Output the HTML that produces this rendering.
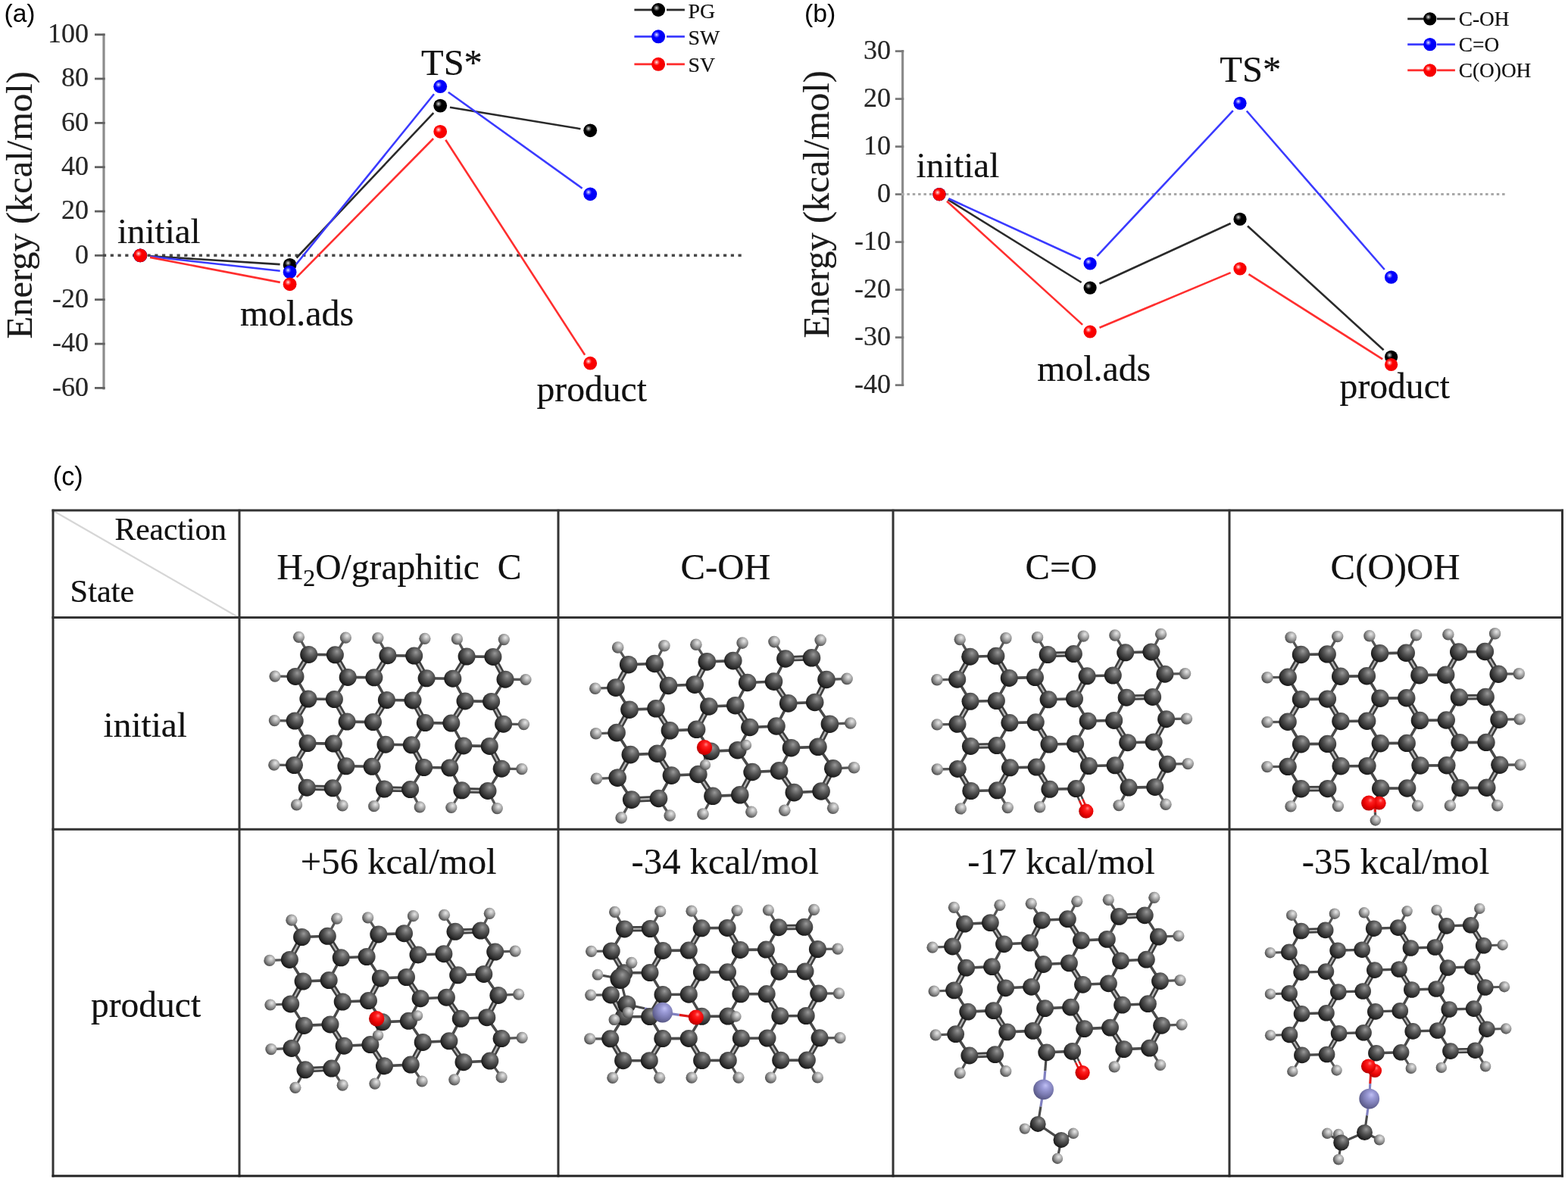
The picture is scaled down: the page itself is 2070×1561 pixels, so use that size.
<!DOCTYPE html>
<html><head><meta charset="utf-8"><title>Energy profiles</title>
<style>html,body{margin:0;padding:0;background:#fff;}body{width:2070px;height:1561px;overflow:hidden;position:relative;}svg{position:absolute;left:0;top:0;}</style>
</head><body>
<svg width="2070" height="1561" viewBox="0 0 2070 1561">
<defs>
<radialGradient id="gC" cx="0.62" cy="0.38" r="0.78" fx="0.60" fy="0.30">
<stop offset="0.00" stop-color="#9a9a9a"/>
<stop offset="0.18" stop-color="#777"/>
<stop offset="0.40" stop-color="#525252"/>
<stop offset="0.62" stop-color="#363636"/>
<stop offset="0.82" stop-color="#181818"/>
<stop offset="1.00" stop-color="#090909"/>
</radialGradient>
<radialGradient id="gH" cx="0.62" cy="0.40" r="0.80" fx="0.62" fy="0.33">
<stop offset="0.00" stop-color="#e8e8e8"/>
<stop offset="0.22" stop-color="#c4c4c4"/>
<stop offset="0.50" stop-color="#8e8e8e"/>
<stop offset="0.75" stop-color="#575757"/>
<stop offset="1.00" stop-color="#333"/>
</radialGradient>
<radialGradient id="gO" cx="0.60" cy="0.40" r="0.80" fx="0.60" fy="0.30">
<stop offset="0.00" stop-color="#ff8080"/>
<stop offset="0.20" stop-color="#ff2020"/>
<stop offset="0.55" stop-color="#e60000"/>
<stop offset="0.82" stop-color="#b00000"/>
<stop offset="1.00" stop-color="#700000"/>
</radialGradient>
<radialGradient id="gN" cx="0.60" cy="0.40" r="0.80" fx="0.60" fy="0.30">
<stop offset="0.00" stop-color="#c0c0f4"/>
<stop offset="0.22" stop-color="#9c9cd8"/>
<stop offset="0.50" stop-color="#7d7db4"/>
<stop offset="0.78" stop-color="#5a5a88"/>
<stop offset="1.00" stop-color="#3c3c5e"/>
</radialGradient>
<radialGradient id="mK" cx="0.37" cy="0.36" r="0.68" fx="0.37" fy="0.36">
<stop offset="0.00" stop-color="#e0e0e0"/>
<stop offset="0.18" stop-color="#606060"/>
<stop offset="0.35" stop-color="#000"/>
<stop offset="1.00" stop-color="#000"/>
</radialGradient>
<radialGradient id="mB" cx="0.37" cy="0.36" r="0.68" fx="0.37" fy="0.36">
<stop offset="0.00" stop-color="#f0f0ff"/>
<stop offset="0.18" stop-color="#6060ff"/>
<stop offset="0.35" stop-color="#0000ff"/>
<stop offset="1.00" stop-color="#0000f0"/>
</radialGradient>
<radialGradient id="mR" cx="0.37" cy="0.36" r="0.68" fx="0.37" fy="0.36">
<stop offset="0.00" stop-color="#fff0f0"/>
<stop offset="0.18" stop-color="#ff6060"/>
<stop offset="0.35" stop-color="#ff0000"/>
<stop offset="1.00" stop-color="#f00000"/>
</radialGradient>
</defs>
<rect width="2070" height="1561" fill="#fff"/>
<text x="5.5" y="29.0" font-size="33.6" text-anchor="start" fill="#000" font-family="'Liberation Sans',Arial,sans-serif">(a)</text>
<line x1="137.0" y1="44.5" x2="137.0" y2="514.5" stroke="#8c8c8c" stroke-width="3.2"/>
<line x1="125.0" y1="512.4" x2="138.6" y2="512.4" stroke="#606060" stroke-width="2.8"/>
<text x="117.0" y="522.7" font-size="36.0" text-anchor="end" fill="#262626" font-family="'Liberation Serif','Times New Roman',serif" stroke="#262626" stroke-width="0.2">-60</text>
<line x1="125.0" y1="454.1" x2="138.6" y2="454.1" stroke="#606060" stroke-width="2.8"/>
<text x="117.0" y="464.4" font-size="36.0" text-anchor="end" fill="#262626" font-family="'Liberation Serif','Times New Roman',serif" stroke="#262626" stroke-width="0.2">-40</text>
<line x1="125.0" y1="395.7" x2="138.6" y2="395.7" stroke="#606060" stroke-width="2.8"/>
<text x="117.0" y="406.0" font-size="36.0" text-anchor="end" fill="#262626" font-family="'Liberation Serif','Times New Roman',serif" stroke="#262626" stroke-width="0.2">-20</text>
<line x1="125.0" y1="337.4" x2="138.6" y2="337.4" stroke="#606060" stroke-width="2.8"/>
<text x="117.0" y="347.7" font-size="36.0" text-anchor="end" fill="#262626" font-family="'Liberation Serif','Times New Roman',serif" stroke="#262626" stroke-width="0.2">0</text>
<line x1="125.0" y1="279.1" x2="138.6" y2="279.1" stroke="#606060" stroke-width="2.8"/>
<text x="117.0" y="289.4" font-size="36.0" text-anchor="end" fill="#262626" font-family="'Liberation Serif','Times New Roman',serif" stroke="#262626" stroke-width="0.2">20</text>
<line x1="125.0" y1="220.7" x2="138.6" y2="220.7" stroke="#606060" stroke-width="2.8"/>
<text x="117.0" y="231.0" font-size="36.0" text-anchor="end" fill="#262626" font-family="'Liberation Serif','Times New Roman',serif" stroke="#262626" stroke-width="0.2">40</text>
<line x1="125.0" y1="162.4" x2="138.6" y2="162.4" stroke="#606060" stroke-width="2.8"/>
<text x="117.0" y="172.7" font-size="36.0" text-anchor="end" fill="#262626" font-family="'Liberation Serif','Times New Roman',serif" stroke="#262626" stroke-width="0.2">60</text>
<line x1="125.0" y1="104.0" x2="138.6" y2="104.0" stroke="#606060" stroke-width="2.8"/>
<text x="117.0" y="114.3" font-size="36.0" text-anchor="end" fill="#262626" font-family="'Liberation Serif','Times New Roman',serif" stroke="#262626" stroke-width="0.2">80</text>
<line x1="125.0" y1="45.7" x2="138.6" y2="45.7" stroke="#606060" stroke-width="2.8"/>
<text x="117.0" y="56.0" font-size="36.0" text-anchor="end" fill="#262626" font-family="'Liberation Serif','Times New Roman',serif" stroke="#262626" stroke-width="0.2">100</text>
<text transform="translate(41.5,447.4) rotate(-90)" font-size="48.5" fill="#1a1a1a" stroke="#1a1a1a" stroke-width="0.2" font-family="'Liberation Serif','Times New Roman',serif">Energy (kcal/mol)</text>
<line x1="136" y1="337.2" x2="980" y2="337.2" stroke="#484848" stroke-width="3.6" stroke-dasharray="4.2,5.55"/>
<line x1="198.2" y1="338.2" x2="369.6" y2="349.1" stroke="#2a2a2a" stroke-width="2.6"/>
<line x1="391.5" y1="340.5" x2="572.3" y2="149.1" stroke="#2a2a2a" stroke-width="2.6"/>
<line x1="594.0" y1="141.7" x2="766.4" y2="170.2" stroke="#2a2a2a" stroke-width="2.6"/>
<circle cx="185.2" cy="337.4" r="8.9" fill="url(#mK)"/>
<circle cx="382.6" cy="349.9" r="8.9" fill="url(#mK)"/>
<circle cx="581.2" cy="139.6" r="8.9" fill="url(#mK)"/>
<circle cx="779.2" cy="172.3" r="8.9" fill="url(#mK)"/>
<line x1="198.1" y1="338.8" x2="369.7" y2="357.8" stroke="#3a3aff" stroke-width="2.6"/>
<line x1="390.8" y1="349.2" x2="573.0" y2="124.3" stroke="#3a3aff" stroke-width="2.6"/>
<line x1="591.8" y1="121.8" x2="768.6" y2="248.7" stroke="#3a3aff" stroke-width="2.6"/>
<circle cx="185.2" cy="337.4" r="8.9" fill="url(#mB)"/>
<circle cx="382.6" cy="359.3" r="8.9" fill="url(#mB)"/>
<circle cx="581.2" cy="114.2" r="8.9" fill="url(#mB)"/>
<circle cx="779.2" cy="256.3" r="8.9" fill="url(#mB)"/>
<line x1="198.0" y1="339.9" x2="369.8" y2="372.9" stroke="#ff2e2e" stroke-width="2.6"/>
<line x1="391.7" y1="366.1" x2="572.1" y2="183.0" stroke="#ff2e2e" stroke-width="2.6"/>
<line x1="588.3" y1="184.7" x2="772.1" y2="468.8" stroke="#ff2e2e" stroke-width="2.6"/>
<circle cx="185.2" cy="337.4" r="8.9" fill="url(#mR)"/>
<circle cx="382.6" cy="375.3" r="8.9" fill="url(#mR)"/>
<circle cx="581.2" cy="173.8" r="8.9" fill="url(#mR)"/>
<circle cx="779.2" cy="479.7" r="8.9" fill="url(#mR)"/>
<text x="155.0" y="320.5" font-size="47.0" text-anchor="start" fill="#111" font-family="'Liberation Serif','Times New Roman',serif" stroke="#111" stroke-width="0.2">initial</text>
<text x="317.0" y="429.6" font-size="47.8" text-anchor="start" fill="#111" font-family="'Liberation Serif','Times New Roman',serif" stroke="#111" stroke-width="0.2">mol.ads</text>
<text x="556.0" y="98.7" font-size="48.5" text-anchor="start" fill="#111" font-family="'Liberation Serif','Times New Roman',serif" stroke="#111" stroke-width="0.2">TS*</text>
<text x="708.5" y="529.7" font-size="47.6" text-anchor="start" fill="#111" font-family="'Liberation Serif','Times New Roman',serif" stroke="#111" stroke-width="0.2">product</text>
<line x1="837.4" y1="13.0" x2="864.0" y2="13.0" stroke="#2a2a2a" stroke-width="2.8"/>
<line x1="880.0" y1="13.0" x2="903.9" y2="13.0" stroke="#2a2a2a" stroke-width="2.8"/>
<circle cx="869.1" cy="13.0" r="9.0" fill="url(#mK)"/>
<text x="908.6" y="23.6" font-size="27.8" text-anchor="start" fill="#111" font-family="'Liberation Serif','Times New Roman',serif" stroke="#111" stroke-width="0.2">PG</text>
<line x1="837.4" y1="48.3" x2="864.0" y2="48.3" stroke="#3a3aff" stroke-width="2.8"/>
<line x1="880.0" y1="48.3" x2="903.9" y2="48.3" stroke="#3a3aff" stroke-width="2.8"/>
<circle cx="869.1" cy="48.3" r="9.0" fill="url(#mB)"/>
<text x="908.6" y="58.9" font-size="27.8" text-anchor="start" fill="#111" font-family="'Liberation Serif','Times New Roman',serif" stroke="#111" stroke-width="0.2">SW</text>
<line x1="837.4" y1="84.8" x2="864.0" y2="84.8" stroke="#ff2e2e" stroke-width="2.8"/>
<line x1="880.0" y1="84.8" x2="903.9" y2="84.8" stroke="#ff2e2e" stroke-width="2.8"/>
<circle cx="869.1" cy="84.8" r="9.0" fill="url(#mR)"/>
<text x="908.6" y="95.4" font-size="27.8" text-anchor="start" fill="#111" font-family="'Liberation Serif','Times New Roman',serif" stroke="#111" stroke-width="0.2">SV</text>
<text x="1062.0" y="29.3" font-size="33.8" text-anchor="start" fill="#000" font-family="'Liberation Sans',Arial,sans-serif">(b)</text>
<line x1="1191.6" y1="66.0" x2="1191.6" y2="509.6" stroke="#8c8c8c" stroke-width="3.2"/>
<line x1="1181.8" y1="508.6" x2="1193.2" y2="508.6" stroke="#7a7a7a" stroke-width="2.8"/>
<text x="1176.0" y="518.9" font-size="36.0" text-anchor="end" fill="#262626" font-family="'Liberation Serif','Times New Roman',serif" stroke="#262626" stroke-width="0.2">-40</text>
<line x1="1181.8" y1="445.6" x2="1193.2" y2="445.6" stroke="#7a7a7a" stroke-width="2.8"/>
<text x="1176.0" y="455.9" font-size="36.0" text-anchor="end" fill="#262626" font-family="'Liberation Serif','Times New Roman',serif" stroke="#262626" stroke-width="0.2">-30</text>
<line x1="1181.8" y1="382.6" x2="1193.2" y2="382.6" stroke="#7a7a7a" stroke-width="2.8"/>
<text x="1176.0" y="392.9" font-size="36.0" text-anchor="end" fill="#262626" font-family="'Liberation Serif','Times New Roman',serif" stroke="#262626" stroke-width="0.2">-20</text>
<line x1="1181.8" y1="319.6" x2="1193.2" y2="319.6" stroke="#7a7a7a" stroke-width="2.8"/>
<text x="1176.0" y="329.9" font-size="36.0" text-anchor="end" fill="#262626" font-family="'Liberation Serif','Times New Roman',serif" stroke="#262626" stroke-width="0.2">-10</text>
<line x1="1181.8" y1="256.6" x2="1193.2" y2="256.6" stroke="#7a7a7a" stroke-width="2.8"/>
<text x="1176.0" y="266.9" font-size="36.0" text-anchor="end" fill="#262626" font-family="'Liberation Serif','Times New Roman',serif" stroke="#262626" stroke-width="0.2">0</text>
<line x1="1181.8" y1="193.6" x2="1193.2" y2="193.6" stroke="#7a7a7a" stroke-width="2.8"/>
<text x="1176.0" y="203.9" font-size="36.0" text-anchor="end" fill="#262626" font-family="'Liberation Serif','Times New Roman',serif" stroke="#262626" stroke-width="0.2">10</text>
<line x1="1181.8" y1="130.6" x2="1193.2" y2="130.6" stroke="#7a7a7a" stroke-width="2.8"/>
<text x="1176.0" y="140.9" font-size="36.0" text-anchor="end" fill="#262626" font-family="'Liberation Serif','Times New Roman',serif" stroke="#262626" stroke-width="0.2">20</text>
<line x1="1181.8" y1="67.6" x2="1193.2" y2="67.6" stroke="#7a7a7a" stroke-width="2.8"/>
<text x="1176.0" y="77.9" font-size="36.0" text-anchor="end" fill="#262626" font-family="'Liberation Serif','Times New Roman',serif" stroke="#262626" stroke-width="0.2">30</text>
<text transform="translate(1093.6,446.4) rotate(-90)" font-size="48.5" fill="#1a1a1a" stroke="#1a1a1a" stroke-width="0.2" font-family="'Liberation Serif','Times New Roman',serif">Energy (kcal/mol)</text>
<line x1="1190.05" y1="256.5" x2="1988" y2="256.5" stroke="#a8a8a8" stroke-width="2.8" stroke-dasharray="3.5,3.843"/>
<line x1="1251.5" y1="263.7" x2="1427.6" y2="373.0" stroke="#2a2a2a" stroke-width="2.6"/>
<line x1="1451.4" y1="374.5" x2="1624.7" y2="295.0" stroke="#2a2a2a" stroke-width="2.6"/>
<line x1="1647.0" y1="298.5" x2="1826.6" y2="462.3" stroke="#2a2a2a" stroke-width="2.6"/>
<circle cx="1240.0" cy="256.6" r="8.6" fill="url(#mK)"/>
<circle cx="1439.1" cy="380.1" r="8.6" fill="url(#mK)"/>
<circle cx="1637.0" cy="289.4" r="8.6" fill="url(#mK)"/>
<circle cx="1836.6" cy="471.4" r="8.6" fill="url(#mK)"/>
<line x1="1252.3" y1="262.2" x2="1426.8" y2="342.3" stroke="#3a3aff" stroke-width="2.6"/>
<line x1="1448.3" y1="338.1" x2="1627.8" y2="146.1" stroke="#3a3aff" stroke-width="2.6"/>
<line x1="1645.8" y1="146.5" x2="1827.8" y2="356.0" stroke="#3a3aff" stroke-width="2.6"/>
<circle cx="1240.0" cy="256.6" r="8.6" fill="url(#mB)"/>
<circle cx="1439.1" cy="348.0" r="8.6" fill="url(#mB)"/>
<circle cx="1637.0" cy="136.3" r="8.6" fill="url(#mB)"/>
<circle cx="1836.6" cy="366.2" r="8.6" fill="url(#mB)"/>
<line x1="1250.0" y1="265.7" x2="1429.1" y2="428.9" stroke="#ff2e2e" stroke-width="2.6"/>
<line x1="1451.5" y1="432.8" x2="1624.6" y2="360.1" stroke="#ff2e2e" stroke-width="2.6"/>
<line x1="1648.4" y1="362.1" x2="1825.2" y2="474.3" stroke="#ff2e2e" stroke-width="2.6"/>
<circle cx="1240.0" cy="256.6" r="8.6" fill="url(#mR)"/>
<circle cx="1439.1" cy="438.0" r="8.6" fill="url(#mR)"/>
<circle cx="1637.0" cy="354.9" r="8.6" fill="url(#mR)"/>
<circle cx="1836.6" cy="481.5" r="8.6" fill="url(#mR)"/>
<text x="1209.6" y="234.2" font-size="47.0" text-anchor="start" fill="#111" font-family="'Liberation Serif','Times New Roman',serif" stroke="#111" stroke-width="0.2">initial</text>
<text x="1369.2" y="503.0" font-size="47.8" text-anchor="start" fill="#111" font-family="'Liberation Serif','Times New Roman',serif" stroke="#111" stroke-width="0.2">mol.ads</text>
<text x="1610.3" y="107.7" font-size="48.5" text-anchor="start" fill="#111" font-family="'Liberation Serif','Times New Roman',serif" stroke="#111" stroke-width="0.2">TS*</text>
<text x="1768.6" y="526.0" font-size="47.6" text-anchor="start" fill="#111" font-family="'Liberation Serif','Times New Roman',serif" stroke="#111" stroke-width="0.2">product</text>
<line x1="1858.2" y1="24.9" x2="1884.0" y2="24.9" stroke="#2a2a2a" stroke-width="2.8"/>
<line x1="1897.0" y1="24.9" x2="1920.9" y2="24.9" stroke="#2a2a2a" stroke-width="2.8"/>
<circle cx="1887.8" cy="24.9" r="8.6" fill="url(#mK)"/>
<text x="1925.8" y="34.3" font-size="27.3" text-anchor="start" fill="#111" font-family="'Liberation Serif','Times New Roman',serif" stroke="#111" stroke-width="0.2">C-OH</text>
<line x1="1858.2" y1="58.7" x2="1884.0" y2="58.7" stroke="#3a3aff" stroke-width="2.8"/>
<line x1="1897.0" y1="58.7" x2="1920.9" y2="58.7" stroke="#3a3aff" stroke-width="2.8"/>
<circle cx="1887.8" cy="58.7" r="8.6" fill="url(#mB)"/>
<text x="1925.8" y="68.1" font-size="27.3" text-anchor="start" fill="#111" font-family="'Liberation Serif','Times New Roman',serif" stroke="#111" stroke-width="0.2">C=O</text>
<line x1="1858.2" y1="92.8" x2="1884.0" y2="92.8" stroke="#ff2e2e" stroke-width="2.8"/>
<line x1="1897.0" y1="92.8" x2="1920.9" y2="92.8" stroke="#ff2e2e" stroke-width="2.8"/>
<circle cx="1887.8" cy="92.8" r="8.6" fill="url(#mR)"/>
<text x="1925.8" y="102.2" font-size="27.3" text-anchor="start" fill="#111" font-family="'Liberation Serif','Times New Roman',serif" stroke="#111" stroke-width="0.2">C(O)OH</text>
<text x="69.8" y="641.4" font-size="34.2" text-anchor="start" fill="#000" font-family="'Liberation Sans',Arial,sans-serif">(c)</text>
<line x1="71.0" y1="675.0" x2="316.0" y2="816.0" stroke="#d6d6d6" stroke-width="2.2"/>
<line x1="70.0" y1="672.8" x2="70.0" y2="1554.5" stroke="#333" stroke-width="3.0"/>
<line x1="316.0" y1="672.8" x2="316.0" y2="1554.5" stroke="#333" stroke-width="3.0"/>
<line x1="737.0" y1="672.8" x2="737.0" y2="1554.5" stroke="#333" stroke-width="3.0"/>
<line x1="1179.0" y1="672.8" x2="1179.0" y2="1554.5" stroke="#333" stroke-width="3.0"/>
<line x1="1623.0" y1="672.8" x2="1623.0" y2="1554.5" stroke="#333" stroke-width="3.0"/>
<line x1="2062.5" y1="672.8" x2="2062.5" y2="1554.5" stroke="#333" stroke-width="3.0"/>
<line x1="68.5" y1="674.0" x2="2064.0" y2="674.0" stroke="#333" stroke-width="3.0"/>
<line x1="68.5" y1="815.5" x2="2064.0" y2="815.5" stroke="#333" stroke-width="3.0"/>
<line x1="68.5" y1="1095.2" x2="2064.0" y2="1095.2" stroke="#333" stroke-width="3.0"/>
<line x1="68.5" y1="1553.0" x2="2064.0" y2="1553.0" stroke="#222" stroke-width="3.2"/>
<text x="151.5" y="713.0" font-size="41.5" text-anchor="start" fill="#111" font-family="'Liberation Serif','Times New Roman',serif" stroke="#111" stroke-width="0.2">Reaction</text>
<text x="92.5" y="794.8" font-size="42.5" text-anchor="start" fill="#111" font-family="'Liberation Serif','Times New Roman',serif" stroke="#111" stroke-width="0.2">State</text>
<text x="527.0" y="764.5" font-size="47.6" text-anchor="middle" fill="#111" font-family="'Liberation Serif','Times New Roman',serif" stroke="#111" stroke-width="0.2">H<tspan font-size="32.5" dy="9">2</tspan><tspan dy="-9">O/graphitic&#160; C</tspan></text>
<text x="958.0" y="764.5" font-size="48.6" text-anchor="middle" fill="#111" font-family="'Liberation Serif','Times New Roman',serif" stroke="#111" stroke-width="0.2">C-OH</text>
<text x="1401.0" y="764.5" font-size="48.6" text-anchor="middle" fill="#111" font-family="'Liberation Serif','Times New Roman',serif" stroke="#111" stroke-width="0.2">C=O</text>
<text x="1842.0" y="764.5" font-size="48.8" text-anchor="middle" fill="#111" font-family="'Liberation Serif','Times New Roman',serif" stroke="#111" stroke-width="0.2">C(O)OH</text>
<text x="191.8" y="973.2" font-size="47.3" text-anchor="middle" fill="#111" font-family="'Liberation Serif','Times New Roman',serif" stroke="#111" stroke-width="0.2">initial</text>
<text x="192.6" y="1342.7" font-size="47.5" text-anchor="middle" fill="#111" font-family="'Liberation Serif','Times New Roman',serif" stroke="#111" stroke-width="0.2">product</text>
<text x="526.2" y="1154.2" font-size="48.7" text-anchor="middle" fill="#111" font-family="'Liberation Serif','Times New Roman',serif" stroke="#111" stroke-width="0.2">+56 kcal/mol</text>
<text x="957.3" y="1154.2" font-size="48.7" text-anchor="middle" fill="#111" font-family="'Liberation Serif','Times New Roman',serif" stroke="#111" stroke-width="0.2">-34 kcal/mol</text>
<text x="1401.0" y="1154.2" font-size="48.7" text-anchor="middle" fill="#111" font-family="'Liberation Serif','Times New Roman',serif" stroke="#111" stroke-width="0.2">-17 kcal/mol</text>
<text x="1842.5" y="1154.2" font-size="48.7" text-anchor="middle" fill="#111" font-family="'Liberation Serif','Times New Roman',serif" stroke="#111" stroke-width="0.2">-35 kcal/mol</text>
<line x1="491.1" y1="1012.3" x2="507.5" y2="1042.0" stroke="#4a4a4a" stroke-width="3.6"/>
<line x1="405.2" y1="1040.2" x2="439.3" y2="1040.8" stroke="#b4b4b4" stroke-width="6.9"/>
<line x1="405.1" y1="1042.6" x2="439.2" y2="1043.2" stroke="#404040" stroke-width="2.6"/>
<line x1="405.2" y1="1037.8" x2="439.3" y2="1038.4" stroke="#404040" stroke-width="2.6"/>
<line x1="439.3" y1="1040.8" x2="456.9" y2="1011.8" stroke="#4a4a4a" stroke-width="3.6"/>
<line x1="458.1" y1="953.1" x2="492.5" y2="953.6" stroke="#4a4a4a" stroke-width="3.6"/>
<line x1="563.1" y1="895.8" x2="597.8" y2="896.2" stroke="#4a4a4a" stroke-width="3.6"/>
<line x1="509.0" y1="983.2" x2="543.3" y2="983.8" stroke="#4a4a4a" stroke-width="3.6"/>
<line x1="561.3" y1="954.6" x2="595.8" y2="955.1" stroke="#4a4a4a" stroke-width="3.6"/>
<line x1="406.0" y1="981.6" x2="440.3" y2="982.1" stroke="#4a4a4a" stroke-width="3.6"/>
<line x1="456.9" y1="1011.8" x2="491.1" y2="1012.3" stroke="#4a4a4a" stroke-width="3.6"/>
<line x1="440.3" y1="982.1" x2="458.1" y2="953.1" stroke="#4a4a4a" stroke-width="3.6"/>
<line x1="390.0" y1="893.4" x2="406.9" y2="923.0" stroke="#4a4a4a" stroke-width="3.6"/>
<line x1="593.8" y1="1014.0" x2="611.9" y2="984.9" stroke="#b4b4b4" stroke-width="6.9"/>
<line x1="595.8" y1="1015.3" x2="614.0" y2="986.1" stroke="#404040" stroke-width="2.6"/>
<line x1="591.7" y1="1012.8" x2="609.9" y2="983.6" stroke="#404040" stroke-width="2.6"/>
<line x1="648.6" y1="926.4" x2="664.6" y2="956.2" stroke="#b4b4b4" stroke-width="6.9"/>
<line x1="646.4" y1="927.6" x2="662.5" y2="957.3" stroke="#404040" stroke-width="2.6"/>
<line x1="650.7" y1="925.3" x2="666.7" y2="955.0" stroke="#404040" stroke-width="2.6"/>
<line x1="511.9" y1="865.7" x2="546.7" y2="866.1" stroke="#4a4a4a" stroke-width="3.6"/>
<line x1="407.7" y1="864.4" x2="442.4" y2="864.8" stroke="#4a4a4a" stroke-width="3.6"/>
<line x1="545.0" y1="924.9" x2="563.1" y2="895.8" stroke="#4a4a4a" stroke-width="3.6"/>
<line x1="543.3" y1="983.8" x2="559.6" y2="1013.5" stroke="#b4b4b4" stroke-width="6.9"/>
<line x1="541.2" y1="984.9" x2="557.5" y2="1014.6" stroke="#404040" stroke-width="2.6"/>
<line x1="545.4" y1="982.6" x2="561.7" y2="1012.3" stroke="#404040" stroke-width="2.6"/>
<line x1="493.9" y1="894.8" x2="511.9" y2="865.7" stroke="#b4b4b4" stroke-width="6.9"/>
<line x1="495.9" y1="896.1" x2="514.0" y2="866.9" stroke="#404040" stroke-width="2.6"/>
<line x1="491.8" y1="893.6" x2="509.9" y2="864.4" stroke="#404040" stroke-width="2.6"/>
<line x1="441.4" y1="923.5" x2="458.1" y2="953.1" stroke="#b4b4b4" stroke-width="6.9"/>
<line x1="439.3" y1="924.7" x2="456.0" y2="954.3" stroke="#404040" stroke-width="2.6"/>
<line x1="443.5" y1="922.3" x2="460.2" y2="951.9" stroke="#404040" stroke-width="2.6"/>
<line x1="510.4" y1="924.5" x2="545.0" y2="924.9" stroke="#4a4a4a" stroke-width="3.6"/>
<line x1="614.0" y1="925.9" x2="648.6" y2="926.4" stroke="#4a4a4a" stroke-width="3.6"/>
<line x1="389.2" y1="952.0" x2="406.9" y2="923.0" stroke="#b4b4b4" stroke-width="6.9"/>
<line x1="391.3" y1="953.3" x2="408.9" y2="924.2" stroke="#404040" stroke-width="2.6"/>
<line x1="387.2" y1="950.8" x2="404.8" y2="921.7" stroke="#404040" stroke-width="2.6"/>
<line x1="646.3" y1="985.4" x2="662.2" y2="1015.2" stroke="#b4b4b4" stroke-width="6.9"/>
<line x1="644.1" y1="986.5" x2="660.1" y2="1016.3" stroke="#404040" stroke-width="2.6"/>
<line x1="648.4" y1="984.3" x2="664.3" y2="1014.0" stroke="#404040" stroke-width="2.6"/>
<line x1="459.2" y1="894.4" x2="493.9" y2="894.8" stroke="#4a4a4a" stroke-width="3.6"/>
<line x1="388.5" y1="1010.6" x2="406.0" y2="981.6" stroke="#b4b4b4" stroke-width="6.9"/>
<line x1="390.5" y1="1011.9" x2="408.1" y2="982.9" stroke="#404040" stroke-width="2.6"/>
<line x1="386.4" y1="1009.4" x2="404.0" y2="980.4" stroke="#404040" stroke-width="2.6"/>
<line x1="440.3" y1="982.1" x2="456.9" y2="1011.8" stroke="#b4b4b4" stroke-width="6.9"/>
<line x1="438.2" y1="983.3" x2="454.8" y2="1012.9" stroke="#404040" stroke-width="2.6"/>
<line x1="442.4" y1="981.0" x2="459.0" y2="1010.6" stroke="#404040" stroke-width="2.6"/>
<line x1="595.8" y1="955.1" x2="614.0" y2="925.9" stroke="#b4b4b4" stroke-width="6.9"/>
<line x1="597.8" y1="956.4" x2="616.1" y2="927.2" stroke="#404040" stroke-width="2.6"/>
<line x1="593.7" y1="953.9" x2="612.0" y2="924.7" stroke="#404040" stroke-width="2.6"/>
<line x1="593.8" y1="1014.0" x2="609.8" y2="1043.8" stroke="#4a4a4a" stroke-width="3.6"/>
<line x1="406.9" y1="923.0" x2="441.4" y2="923.5" stroke="#4a4a4a" stroke-width="3.6"/>
<line x1="492.5" y1="953.6" x2="509.0" y2="983.2" stroke="#4a4a4a" stroke-width="3.6"/>
<line x1="545.0" y1="924.9" x2="561.3" y2="954.6" stroke="#b4b4b4" stroke-width="6.9"/>
<line x1="542.9" y1="926.1" x2="559.2" y2="955.8" stroke="#404040" stroke-width="2.6"/>
<line x1="547.1" y1="923.8" x2="563.5" y2="953.5" stroke="#404040" stroke-width="2.6"/>
<line x1="546.7" y1="866.1" x2="563.1" y2="895.8" stroke="#b4b4b4" stroke-width="6.9"/>
<line x1="544.5" y1="867.3" x2="561.0" y2="896.9" stroke="#404040" stroke-width="2.6"/>
<line x1="548.8" y1="865.0" x2="565.2" y2="894.6" stroke="#404040" stroke-width="2.6"/>
<line x1="644.0" y1="1044.4" x2="662.2" y2="1015.2" stroke="#4a4a4a" stroke-width="3.6"/>
<line x1="597.8" y1="896.2" x2="616.1" y2="867.0" stroke="#b4b4b4" stroke-width="6.9"/>
<line x1="599.8" y1="897.5" x2="618.2" y2="868.3" stroke="#404040" stroke-width="2.6"/>
<line x1="595.7" y1="895.0" x2="614.1" y2="865.7" stroke="#404040" stroke-width="2.6"/>
<line x1="388.5" y1="1010.6" x2="405.2" y2="1040.2" stroke="#4a4a4a" stroke-width="3.6"/>
<line x1="442.4" y1="864.8" x2="459.2" y2="894.4" stroke="#b4b4b4" stroke-width="6.9"/>
<line x1="440.3" y1="866.0" x2="457.1" y2="895.6" stroke="#404040" stroke-width="2.6"/>
<line x1="444.5" y1="863.6" x2="461.3" y2="893.2" stroke="#404040" stroke-width="2.6"/>
<line x1="493.9" y1="894.8" x2="510.4" y2="924.5" stroke="#4a4a4a" stroke-width="3.6"/>
<line x1="491.1" y1="1012.3" x2="509.0" y2="983.2" stroke="#b4b4b4" stroke-width="6.9"/>
<line x1="493.2" y1="1013.6" x2="511.0" y2="984.5" stroke="#404040" stroke-width="2.6"/>
<line x1="489.1" y1="1011.1" x2="506.9" y2="982.0" stroke="#404040" stroke-width="2.6"/>
<line x1="543.3" y1="983.8" x2="561.3" y2="954.6" stroke="#4a4a4a" stroke-width="3.6"/>
<line x1="609.8" y1="1043.8" x2="644.0" y2="1044.4" stroke="#b4b4b4" stroke-width="6.9"/>
<line x1="609.8" y1="1046.2" x2="643.9" y2="1046.8" stroke="#404040" stroke-width="2.6"/>
<line x1="609.9" y1="1041.4" x2="644.0" y2="1042.0" stroke="#404040" stroke-width="2.6"/>
<line x1="611.9" y1="984.9" x2="646.3" y2="985.4" stroke="#4a4a4a" stroke-width="3.6"/>
<line x1="441.4" y1="923.5" x2="459.2" y2="894.4" stroke="#4a4a4a" stroke-width="3.6"/>
<line x1="650.9" y1="867.4" x2="667.0" y2="897.2" stroke="#b4b4b4" stroke-width="6.9"/>
<line x1="648.8" y1="868.6" x2="664.9" y2="898.3" stroke="#404040" stroke-width="2.6"/>
<line x1="653.0" y1="866.3" x2="669.2" y2="896.0" stroke="#404040" stroke-width="2.6"/>
<line x1="648.6" y1="926.4" x2="667.0" y2="897.2" stroke="#4a4a4a" stroke-width="3.6"/>
<line x1="559.6" y1="1013.5" x2="593.8" y2="1014.0" stroke="#4a4a4a" stroke-width="3.6"/>
<line x1="390.0" y1="893.4" x2="407.7" y2="864.4" stroke="#b4b4b4" stroke-width="6.9"/>
<line x1="392.0" y1="894.7" x2="409.8" y2="865.6" stroke="#404040" stroke-width="2.6"/>
<line x1="387.9" y1="892.2" x2="405.6" y2="863.1" stroke="#404040" stroke-width="2.6"/>
<line x1="597.8" y1="896.2" x2="614.0" y2="925.9" stroke="#4a4a4a" stroke-width="3.6"/>
<line x1="616.1" y1="867.0" x2="650.9" y2="867.4" stroke="#4a4a4a" stroke-width="3.6"/>
<line x1="646.3" y1="985.4" x2="664.6" y2="956.2" stroke="#4a4a4a" stroke-width="3.6"/>
<line x1="507.5" y1="1042.0" x2="541.6" y2="1042.6" stroke="#b4b4b4" stroke-width="6.9"/>
<line x1="507.5" y1="1044.4" x2="541.6" y2="1045.0" stroke="#404040" stroke-width="2.6"/>
<line x1="507.5" y1="1039.6" x2="541.7" y2="1040.2" stroke="#404040" stroke-width="2.6"/>
<line x1="541.6" y1="1042.6" x2="559.6" y2="1013.5" stroke="#4a4a4a" stroke-width="3.6"/>
<line x1="492.5" y1="953.6" x2="510.4" y2="924.5" stroke="#b4b4b4" stroke-width="6.9"/>
<line x1="494.6" y1="954.8" x2="512.5" y2="925.7" stroke="#404040" stroke-width="2.6"/>
<line x1="490.4" y1="952.3" x2="508.4" y2="923.2" stroke="#404040" stroke-width="2.6"/>
<line x1="595.8" y1="955.1" x2="611.9" y2="984.9" stroke="#4a4a4a" stroke-width="3.6"/>
<line x1="389.2" y1="952.0" x2="406.0" y2="981.6" stroke="#4a4a4a" stroke-width="3.6"/>
<line x1="407.7" y1="864.4" x2="394.5" y2="841.3" stroke="#555" stroke-width="3.3"/>
<line x1="442.4" y1="864.8" x2="456.4" y2="842.1" stroke="#555" stroke-width="3.3"/>
<line x1="390.0" y1="893.4" x2="363.0" y2="893.1" stroke="#555" stroke-width="3.3"/>
<line x1="389.2" y1="952.0" x2="362.4" y2="951.6" stroke="#555" stroke-width="3.3"/>
<line x1="439.3" y1="1040.8" x2="452.1" y2="1063.9" stroke="#555" stroke-width="3.3"/>
<line x1="405.2" y1="1040.2" x2="391.6" y2="1062.9" stroke="#555" stroke-width="3.3"/>
<line x1="388.5" y1="1010.6" x2="361.8" y2="1010.2" stroke="#555" stroke-width="3.3"/>
<line x1="511.9" y1="865.7" x2="498.9" y2="842.6" stroke="#555" stroke-width="3.3"/>
<line x1="546.7" y1="866.1" x2="560.9" y2="843.3" stroke="#555" stroke-width="3.3"/>
<line x1="541.6" y1="1042.6" x2="554.2" y2="1065.8" stroke="#555" stroke-width="3.3"/>
<line x1="507.5" y1="1042.0" x2="493.7" y2="1064.7" stroke="#555" stroke-width="3.3"/>
<line x1="616.1" y1="867.0" x2="603.4" y2="843.9" stroke="#555" stroke-width="3.3"/>
<line x1="650.9" y1="867.4" x2="665.3" y2="844.6" stroke="#555" stroke-width="3.3"/>
<line x1="667.0" y1="897.2" x2="694.0" y2="897.5" stroke="#555" stroke-width="3.3"/>
<line x1="664.6" y1="956.2" x2="691.5" y2="956.6" stroke="#555" stroke-width="3.3"/>
<line x1="662.2" y1="1015.2" x2="688.9" y2="1015.6" stroke="#555" stroke-width="3.3"/>
<line x1="644.0" y1="1044.4" x2="656.3" y2="1067.6" stroke="#555" stroke-width="3.3"/>
<line x1="609.8" y1="1043.8" x2="595.8" y2="1066.5" stroke="#555" stroke-width="3.3"/>
<circle cx="407.7" cy="864.4" r="11.5" fill="url(#gC)"/>
<circle cx="442.4" cy="864.8" r="11.5" fill="url(#gC)"/>
<circle cx="459.2" cy="894.4" r="11.5" fill="url(#gC)"/>
<circle cx="441.4" cy="923.5" r="11.5" fill="url(#gC)"/>
<circle cx="406.9" cy="923.0" r="11.5" fill="url(#gC)"/>
<circle cx="390.0" cy="893.4" r="11.5" fill="url(#gC)"/>
<circle cx="458.1" cy="953.1" r="11.5" fill="url(#gC)"/>
<circle cx="440.3" cy="982.1" r="11.5" fill="url(#gC)"/>
<circle cx="406.0" cy="981.6" r="11.5" fill="url(#gC)"/>
<circle cx="389.2" cy="952.0" r="11.5" fill="url(#gC)"/>
<circle cx="456.9" cy="1011.8" r="11.5" fill="url(#gC)"/>
<circle cx="439.3" cy="1040.8" r="11.5" fill="url(#gC)"/>
<circle cx="405.2" cy="1040.2" r="11.5" fill="url(#gC)"/>
<circle cx="388.5" cy="1010.6" r="11.5" fill="url(#gC)"/>
<circle cx="493.9" cy="894.8" r="11.5" fill="url(#gC)"/>
<circle cx="510.4" cy="924.5" r="11.5" fill="url(#gC)"/>
<circle cx="492.5" cy="953.6" r="11.5" fill="url(#gC)"/>
<circle cx="509.0" cy="983.2" r="11.5" fill="url(#gC)"/>
<circle cx="491.1" cy="1012.3" r="11.5" fill="url(#gC)"/>
<circle cx="511.9" cy="865.7" r="11.5" fill="url(#gC)"/>
<circle cx="546.7" cy="866.1" r="11.5" fill="url(#gC)"/>
<circle cx="563.1" cy="895.8" r="11.5" fill="url(#gC)"/>
<circle cx="545.0" cy="924.9" r="11.5" fill="url(#gC)"/>
<circle cx="561.3" cy="954.6" r="11.5" fill="url(#gC)"/>
<circle cx="543.3" cy="983.8" r="11.5" fill="url(#gC)"/>
<circle cx="559.6" cy="1013.5" r="11.5" fill="url(#gC)"/>
<circle cx="541.6" cy="1042.6" r="11.5" fill="url(#gC)"/>
<circle cx="507.5" cy="1042.0" r="11.5" fill="url(#gC)"/>
<circle cx="597.8" cy="896.2" r="11.5" fill="url(#gC)"/>
<circle cx="614.0" cy="925.9" r="11.5" fill="url(#gC)"/>
<circle cx="595.8" cy="955.1" r="11.5" fill="url(#gC)"/>
<circle cx="611.9" cy="984.9" r="11.5" fill="url(#gC)"/>
<circle cx="593.8" cy="1014.0" r="11.5" fill="url(#gC)"/>
<circle cx="616.1" cy="867.0" r="11.5" fill="url(#gC)"/>
<circle cx="650.9" cy="867.4" r="11.5" fill="url(#gC)"/>
<circle cx="667.0" cy="897.2" r="11.5" fill="url(#gC)"/>
<circle cx="648.6" cy="926.4" r="11.5" fill="url(#gC)"/>
<circle cx="664.6" cy="956.2" r="11.5" fill="url(#gC)"/>
<circle cx="646.3" cy="985.4" r="11.5" fill="url(#gC)"/>
<circle cx="662.2" cy="1015.2" r="11.5" fill="url(#gC)"/>
<circle cx="644.0" cy="1044.4" r="11.5" fill="url(#gC)"/>
<circle cx="609.8" cy="1043.8" r="11.5" fill="url(#gC)"/>
<circle cx="394.5" cy="841.3" r="7.6" fill="url(#gH)"/>
<circle cx="456.4" cy="842.1" r="7.6" fill="url(#gH)"/>
<circle cx="363.0" cy="893.1" r="7.6" fill="url(#gH)"/>
<circle cx="362.4" cy="951.6" r="7.6" fill="url(#gH)"/>
<circle cx="452.1" cy="1063.9" r="7.6" fill="url(#gH)"/>
<circle cx="391.6" cy="1062.9" r="7.6" fill="url(#gH)"/>
<circle cx="361.8" cy="1010.2" r="7.6" fill="url(#gH)"/>
<circle cx="498.9" cy="842.6" r="7.6" fill="url(#gH)"/>
<circle cx="560.9" cy="843.3" r="7.6" fill="url(#gH)"/>
<circle cx="554.2" cy="1065.8" r="7.6" fill="url(#gH)"/>
<circle cx="493.7" cy="1064.7" r="7.6" fill="url(#gH)"/>
<circle cx="603.4" cy="843.9" r="7.6" fill="url(#gH)"/>
<circle cx="665.3" cy="844.6" r="7.6" fill="url(#gH)"/>
<circle cx="694.0" cy="897.5" r="7.6" fill="url(#gH)"/>
<circle cx="691.5" cy="956.6" r="7.6" fill="url(#gH)"/>
<circle cx="688.9" cy="1015.6" r="7.6" fill="url(#gH)"/>
<circle cx="656.3" cy="1067.6" r="7.6" fill="url(#gH)"/>
<circle cx="595.8" cy="1066.5" r="7.6" fill="url(#gH)"/>
<line x1="921.9" y1="1022.5" x2="941.0" y2="1051.3" stroke="#b4b4b4" stroke-width="7.0"/>
<line x1="919.9" y1="1023.9" x2="938.9" y2="1052.7" stroke="#404040" stroke-width="2.6"/>
<line x1="924.0" y1="1021.2" x2="943.1" y2="1050.0" stroke="#404040" stroke-width="2.6"/>
<line x1="833.7" y1="1056.1" x2="869.5" y2="1054.5" stroke="#b4b4b4" stroke-width="7.0"/>
<line x1="833.8" y1="1058.6" x2="869.6" y2="1057.0" stroke="#404040" stroke-width="2.6"/>
<line x1="833.6" y1="1053.6" x2="869.4" y2="1052.0" stroke="#404040" stroke-width="2.6"/>
<line x1="869.5" y1="1054.5" x2="886.4" y2="1024.1" stroke="#4a4a4a" stroke-width="3.7"/>
<line x1="884.4" y1="964.8" x2="919.6" y2="963.3" stroke="#4a4a4a" stroke-width="3.7"/>
<line x1="986.7" y1="901.5" x2="1021.5" y2="900.1" stroke="#4a4a4a" stroke-width="3.7"/>
<line x1="938.4" y1="992.2" x2="973.8" y2="990.7" stroke="#4a4a4a" stroke-width="3.7"/>
<line x1="989.9" y1="960.5" x2="1025.0" y2="959.0" stroke="#4a4a4a" stroke-width="3.7"/>
<line x1="832.3" y1="996.6" x2="867.7" y2="995.2" stroke="#4a4a4a" stroke-width="3.7"/>
<line x1="886.4" y1="1024.1" x2="921.9" y2="1022.5" stroke="#4a4a4a" stroke-width="3.7"/>
<line x1="867.7" y1="995.2" x2="884.4" y2="964.8" stroke="#4a4a4a" stroke-width="3.7"/>
<line x1="813.0" y1="908.1" x2="831.0" y2="937.2" stroke="#4a4a4a" stroke-width="3.7"/>
<line x1="1028.6" y1="1017.9" x2="1044.5" y2="987.7" stroke="#4a4a4a" stroke-width="3.7"/>
<line x1="1075.7" y1="927.5" x2="1095.4" y2="956.2" stroke="#4a4a4a" stroke-width="3.7"/>
<line x1="933.3" y1="873.9" x2="967.8" y2="872.6" stroke="#4a4a4a" stroke-width="3.7"/>
<line x1="829.7" y1="877.7" x2="864.2" y2="876.5" stroke="#4a4a4a" stroke-width="3.7"/>
<line x1="970.8" y1="931.7" x2="986.7" y2="901.5" stroke="#4a4a4a" stroke-width="3.7"/>
<line x1="973.8" y1="990.7" x2="993.1" y2="1019.5" stroke="#4a4a4a" stroke-width="3.7"/>
<line x1="917.2" y1="904.1" x2="933.3" y2="873.9" stroke="#b4b4b4" stroke-width="7.0"/>
<line x1="919.4" y1="905.3" x2="935.5" y2="875.0" stroke="#404040" stroke-width="2.6"/>
<line x1="915.0" y1="903.0" x2="931.1" y2="872.7" stroke="#404040" stroke-width="2.6"/>
<line x1="866.0" y1="935.8" x2="884.4" y2="964.8" stroke="#b4b4b4" stroke-width="7.0"/>
<line x1="863.9" y1="937.1" x2="882.3" y2="966.1" stroke="#404040" stroke-width="2.6"/>
<line x1="868.0" y1="934.5" x2="886.5" y2="963.4" stroke="#404040" stroke-width="2.6"/>
<line x1="935.9" y1="933.0" x2="970.8" y2="931.7" stroke="#4a4a4a" stroke-width="3.7"/>
<line x1="1040.7" y1="928.9" x2="1075.7" y2="927.5" stroke="#4a4a4a" stroke-width="3.7"/>
<line x1="814.1" y1="967.6" x2="831.0" y2="937.2" stroke="#b4b4b4" stroke-width="7.0"/>
<line x1="816.2" y1="968.8" x2="833.2" y2="938.4" stroke="#404040" stroke-width="2.6"/>
<line x1="811.9" y1="966.4" x2="828.8" y2="936.0" stroke="#404040" stroke-width="2.6"/>
<line x1="1079.9" y1="986.3" x2="1099.8" y2="1014.9" stroke="#4a4a4a" stroke-width="3.7"/>
<line x1="882.5" y1="905.5" x2="917.2" y2="904.1" stroke="#4a4a4a" stroke-width="3.7"/>
<line x1="815.2" y1="1027.1" x2="832.3" y2="996.6" stroke="#b4b4b4" stroke-width="7.0"/>
<line x1="817.4" y1="1028.3" x2="834.5" y2="997.8" stroke="#404040" stroke-width="2.6"/>
<line x1="813.1" y1="1025.9" x2="830.2" y2="995.4" stroke="#404040" stroke-width="2.6"/>
<line x1="867.7" y1="995.2" x2="886.4" y2="1024.1" stroke="#b4b4b4" stroke-width="7.0"/>
<line x1="865.6" y1="996.5" x2="884.3" y2="1025.4" stroke="#404040" stroke-width="2.6"/>
<line x1="869.8" y1="993.8" x2="888.4" y2="1022.7" stroke="#404040" stroke-width="2.6"/>
<line x1="1025.0" y1="959.0" x2="1040.7" y2="928.9" stroke="#4a4a4a" stroke-width="3.7"/>
<line x1="1028.6" y1="1017.9" x2="1048.3" y2="1046.6" stroke="#b4b4b4" stroke-width="7.0"/>
<line x1="1026.6" y1="1019.3" x2="1046.3" y2="1048.0" stroke="#404040" stroke-width="2.6"/>
<line x1="1030.7" y1="1016.5" x2="1050.3" y2="1045.2" stroke="#404040" stroke-width="2.6"/>
<line x1="831.0" y1="937.2" x2="866.0" y2="935.8" stroke="#4a4a4a" stroke-width="3.7"/>
<line x1="919.6" y1="963.3" x2="938.4" y2="992.2" stroke="#4a4a4a" stroke-width="3.7"/>
<line x1="970.8" y1="931.7" x2="989.9" y2="960.5" stroke="#b4b4b4" stroke-width="7.0"/>
<line x1="968.8" y1="933.0" x2="987.8" y2="961.8" stroke="#404040" stroke-width="2.6"/>
<line x1="972.9" y1="930.3" x2="991.9" y2="959.1" stroke="#404040" stroke-width="2.6"/>
<line x1="967.8" y1="872.6" x2="986.7" y2="901.5" stroke="#b4b4b4" stroke-width="7.0"/>
<line x1="965.8" y1="874.0" x2="984.6" y2="902.8" stroke="#404040" stroke-width="2.6"/>
<line x1="969.9" y1="871.3" x2="988.8" y2="900.1" stroke="#404040" stroke-width="2.6"/>
<line x1="1084.1" y1="1045.0" x2="1099.8" y2="1014.9" stroke="#b4b4b4" stroke-width="7.0"/>
<line x1="1086.3" y1="1046.1" x2="1102.0" y2="1016.0" stroke="#404040" stroke-width="2.6"/>
<line x1="1081.9" y1="1043.9" x2="1097.6" y2="1013.7" stroke="#404040" stroke-width="2.6"/>
<line x1="1021.5" y1="900.1" x2="1036.9" y2="870.0" stroke="#4a4a4a" stroke-width="3.7"/>
<line x1="815.2" y1="1027.1" x2="833.7" y2="1056.1" stroke="#4a4a4a" stroke-width="3.7"/>
<line x1="864.2" y1="876.5" x2="882.5" y2="905.5" stroke="#b4b4b4" stroke-width="7.0"/>
<line x1="862.1" y1="877.8" x2="880.4" y2="906.8" stroke="#404040" stroke-width="2.6"/>
<line x1="866.3" y1="875.1" x2="884.5" y2="904.2" stroke="#404040" stroke-width="2.6"/>
<line x1="917.2" y1="904.1" x2="935.9" y2="933.0" stroke="#4a4a4a" stroke-width="3.7"/>
<line x1="921.9" y1="1022.5" x2="938.4" y2="992.2" stroke="#4a4a4a" stroke-width="3.7"/>
<line x1="973.8" y1="990.7" x2="989.9" y2="960.5" stroke="#4a4a4a" stroke-width="3.7"/>
<line x1="1048.3" y1="1046.6" x2="1084.1" y2="1045.0" stroke="#4a4a4a" stroke-width="3.7"/>
<line x1="1044.5" y1="987.7" x2="1079.9" y2="986.3" stroke="#4a4a4a" stroke-width="3.7"/>
<line x1="866.0" y1="935.8" x2="882.5" y2="905.5" stroke="#4a4a4a" stroke-width="3.7"/>
<line x1="1071.5" y1="868.8" x2="1091.0" y2="897.5" stroke="#4a4a4a" stroke-width="3.7"/>
<line x1="1075.7" y1="927.5" x2="1091.0" y2="897.5" stroke="#b4b4b4" stroke-width="7.0"/>
<line x1="1077.9" y1="928.6" x2="1093.1" y2="898.6" stroke="#404040" stroke-width="2.6"/>
<line x1="1073.5" y1="926.4" x2="1088.8" y2="896.4" stroke="#404040" stroke-width="2.6"/>
<line x1="993.1" y1="1019.5" x2="1028.6" y2="1017.9" stroke="#4a4a4a" stroke-width="3.7"/>
<line x1="813.0" y1="908.1" x2="829.7" y2="877.7" stroke="#b4b4b4" stroke-width="7.0"/>
<line x1="815.1" y1="909.3" x2="831.8" y2="878.9" stroke="#404040" stroke-width="2.6"/>
<line x1="810.8" y1="906.9" x2="827.5" y2="876.6" stroke="#404040" stroke-width="2.6"/>
<line x1="1021.5" y1="900.1" x2="1040.7" y2="928.9" stroke="#b4b4b4" stroke-width="7.0"/>
<line x1="1019.4" y1="901.5" x2="1038.7" y2="930.3" stroke="#404040" stroke-width="2.6"/>
<line x1="1023.5" y1="898.8" x2="1042.8" y2="927.5" stroke="#404040" stroke-width="2.6"/>
<line x1="1036.9" y1="870.0" x2="1071.5" y2="868.8" stroke="#b4b4b4" stroke-width="7.0"/>
<line x1="1037.0" y1="872.5" x2="1071.6" y2="871.2" stroke="#404040" stroke-width="2.6"/>
<line x1="1036.8" y1="867.6" x2="1071.4" y2="866.3" stroke="#404040" stroke-width="2.6"/>
<line x1="1079.9" y1="986.3" x2="1095.4" y2="956.2" stroke="#b4b4b4" stroke-width="7.0"/>
<line x1="1082.1" y1="987.4" x2="1097.5" y2="957.3" stroke="#404040" stroke-width="2.6"/>
<line x1="1077.7" y1="985.1" x2="1093.2" y2="955.0" stroke="#404040" stroke-width="2.6"/>
<line x1="941.0" y1="1051.3" x2="976.8" y2="1049.8" stroke="#4a4a4a" stroke-width="3.7"/>
<line x1="976.8" y1="1049.8" x2="993.1" y2="1019.5" stroke="#b4b4b4" stroke-width="7.0"/>
<line x1="978.9" y1="1050.9" x2="995.2" y2="1020.6" stroke="#404040" stroke-width="2.6"/>
<line x1="974.6" y1="1048.6" x2="990.9" y2="1018.3" stroke="#404040" stroke-width="2.6"/>
<line x1="919.6" y1="963.3" x2="935.9" y2="933.0" stroke="#b4b4b4" stroke-width="7.0"/>
<line x1="921.7" y1="964.5" x2="938.0" y2="934.2" stroke="#404040" stroke-width="2.6"/>
<line x1="917.4" y1="962.2" x2="933.7" y2="931.9" stroke="#404040" stroke-width="2.6"/>
<line x1="1025.0" y1="959.0" x2="1044.5" y2="987.7" stroke="#b4b4b4" stroke-width="7.0"/>
<line x1="1023.0" y1="960.4" x2="1042.5" y2="989.1" stroke="#404040" stroke-width="2.6"/>
<line x1="1027.1" y1="957.7" x2="1046.6" y2="986.4" stroke="#404040" stroke-width="2.6"/>
<line x1="814.1" y1="967.6" x2="832.3" y2="996.6" stroke="#4a4a4a" stroke-width="3.7"/>
<line x1="829.7" y1="877.7" x2="815.7" y2="855.0" stroke="#555" stroke-width="3.3"/>
<line x1="864.2" y1="876.5" x2="876.9" y2="852.8" stroke="#555" stroke-width="3.3"/>
<line x1="813.0" y1="908.1" x2="785.8" y2="909.2" stroke="#555" stroke-width="3.3"/>
<line x1="814.1" y1="967.6" x2="786.7" y2="968.8" stroke="#555" stroke-width="3.3"/>
<line x1="869.5" y1="1054.5" x2="884.2" y2="1077.0" stroke="#555" stroke-width="3.3"/>
<line x1="833.7" y1="1056.1" x2="820.2" y2="1079.9" stroke="#555" stroke-width="3.3"/>
<line x1="815.2" y1="1027.1" x2="787.5" y2="1028.3" stroke="#555" stroke-width="3.3"/>
<line x1="933.3" y1="873.9" x2="918.9" y2="851.3" stroke="#555" stroke-width="3.3"/>
<line x1="967.8" y1="872.6" x2="980.1" y2="849.1" stroke="#555" stroke-width="3.3"/>
<line x1="976.8" y1="1049.8" x2="991.9" y2="1072.2" stroke="#555" stroke-width="3.3"/>
<line x1="941.0" y1="1051.3" x2="928.0" y2="1075.0" stroke="#555" stroke-width="3.3"/>
<line x1="1036.9" y1="870.0" x2="1022.0" y2="847.6" stroke="#555" stroke-width="3.3"/>
<line x1="1071.5" y1="868.8" x2="1083.2" y2="845.4" stroke="#555" stroke-width="3.3"/>
<line x1="1091.0" y1="897.5" x2="1118.1" y2="896.4" stroke="#555" stroke-width="3.3"/>
<line x1="1095.4" y1="956.2" x2="1122.8" y2="955.0" stroke="#555" stroke-width="3.3"/>
<line x1="1099.8" y1="1014.9" x2="1127.5" y2="1013.7" stroke="#555" stroke-width="3.3"/>
<line x1="1084.1" y1="1045.0" x2="1099.7" y2="1067.3" stroke="#555" stroke-width="3.3"/>
<line x1="1048.3" y1="1046.6" x2="1035.8" y2="1070.2" stroke="#555" stroke-width="3.3"/>
<line x1="930.0" y1="987.1" x2="930.5" y2="998.5" stroke="#e01818" stroke-width="3.3"/>
<line x1="930.5" y1="998.5" x2="931.0" y2="1010.0" stroke="#505050" stroke-width="3.3"/>
<circle cx="829.7" cy="877.7" r="11.8" fill="url(#gC)"/>
<circle cx="864.2" cy="876.5" r="11.8" fill="url(#gC)"/>
<circle cx="882.5" cy="905.5" r="11.8" fill="url(#gC)"/>
<circle cx="866.0" cy="935.8" r="11.8" fill="url(#gC)"/>
<circle cx="831.0" cy="937.2" r="11.8" fill="url(#gC)"/>
<circle cx="813.0" cy="908.1" r="11.8" fill="url(#gC)"/>
<circle cx="884.4" cy="964.8" r="11.8" fill="url(#gC)"/>
<circle cx="867.7" cy="995.2" r="11.8" fill="url(#gC)"/>
<circle cx="832.3" cy="996.6" r="11.8" fill="url(#gC)"/>
<circle cx="814.1" cy="967.6" r="11.8" fill="url(#gC)"/>
<circle cx="886.4" cy="1024.1" r="11.8" fill="url(#gC)"/>
<circle cx="869.5" cy="1054.5" r="11.8" fill="url(#gC)"/>
<circle cx="833.7" cy="1056.1" r="11.8" fill="url(#gC)"/>
<circle cx="815.2" cy="1027.1" r="11.8" fill="url(#gC)"/>
<circle cx="917.2" cy="904.1" r="11.8" fill="url(#gC)"/>
<circle cx="935.9" cy="933.0" r="11.8" fill="url(#gC)"/>
<circle cx="919.6" cy="963.3" r="11.8" fill="url(#gC)"/>
<circle cx="938.4" cy="992.2" r="11.8" fill="url(#gC)"/>
<circle cx="921.9" cy="1022.5" r="11.8" fill="url(#gC)"/>
<circle cx="933.3" cy="873.9" r="11.8" fill="url(#gC)"/>
<circle cx="967.8" cy="872.6" r="11.8" fill="url(#gC)"/>
<circle cx="986.7" cy="901.5" r="11.8" fill="url(#gC)"/>
<circle cx="970.8" cy="931.7" r="11.8" fill="url(#gC)"/>
<circle cx="989.9" cy="960.5" r="11.8" fill="url(#gC)"/>
<circle cx="973.8" cy="990.7" r="11.8" fill="url(#gC)"/>
<circle cx="993.1" cy="1019.5" r="11.8" fill="url(#gC)"/>
<circle cx="976.8" cy="1049.8" r="11.8" fill="url(#gC)"/>
<circle cx="941.0" cy="1051.3" r="11.8" fill="url(#gC)"/>
<circle cx="1021.5" cy="900.1" r="11.8" fill="url(#gC)"/>
<circle cx="1040.7" cy="928.9" r="11.8" fill="url(#gC)"/>
<circle cx="1025.0" cy="959.0" r="11.8" fill="url(#gC)"/>
<circle cx="1044.5" cy="987.7" r="11.8" fill="url(#gC)"/>
<circle cx="1028.6" cy="1017.9" r="11.8" fill="url(#gC)"/>
<circle cx="1036.9" cy="870.0" r="11.8" fill="url(#gC)"/>
<circle cx="1071.5" cy="868.8" r="11.8" fill="url(#gC)"/>
<circle cx="1091.0" cy="897.5" r="11.8" fill="url(#gC)"/>
<circle cx="1075.7" cy="927.5" r="11.8" fill="url(#gC)"/>
<circle cx="1095.4" cy="956.2" r="11.8" fill="url(#gC)"/>
<circle cx="1079.9" cy="986.3" r="11.8" fill="url(#gC)"/>
<circle cx="1099.8" cy="1014.9" r="11.8" fill="url(#gC)"/>
<circle cx="1084.1" cy="1045.0" r="11.8" fill="url(#gC)"/>
<circle cx="1048.3" cy="1046.6" r="11.8" fill="url(#gC)"/>
<circle cx="815.7" cy="855.0" r="7.8" fill="url(#gH)"/>
<circle cx="876.9" cy="852.8" r="7.8" fill="url(#gH)"/>
<circle cx="785.8" cy="909.2" r="7.8" fill="url(#gH)"/>
<circle cx="786.7" cy="968.8" r="7.8" fill="url(#gH)"/>
<circle cx="884.2" cy="1077.0" r="7.8" fill="url(#gH)"/>
<circle cx="820.2" cy="1079.9" r="7.8" fill="url(#gH)"/>
<circle cx="787.5" cy="1028.3" r="7.8" fill="url(#gH)"/>
<circle cx="918.9" cy="851.3" r="7.8" fill="url(#gH)"/>
<circle cx="980.1" cy="849.1" r="7.8" fill="url(#gH)"/>
<circle cx="991.9" cy="1072.2" r="7.8" fill="url(#gH)"/>
<circle cx="928.0" cy="1075.0" r="7.8" fill="url(#gH)"/>
<circle cx="1022.0" cy="847.6" r="7.8" fill="url(#gH)"/>
<circle cx="1083.2" cy="845.4" r="7.8" fill="url(#gH)"/>
<circle cx="1118.1" cy="896.4" r="7.8" fill="url(#gH)"/>
<circle cx="1122.8" cy="955.0" r="7.8" fill="url(#gH)"/>
<circle cx="1127.5" cy="1013.7" r="7.8" fill="url(#gH)"/>
<circle cx="1099.7" cy="1067.3" r="7.8" fill="url(#gH)"/>
<circle cx="1035.8" cy="1070.2" r="7.8" fill="url(#gH)"/>
<circle cx="930.0" cy="987.1" r="10.2" fill="url(#gO)"/>
<circle cx="931.0" cy="1010.0" r="7.2" fill="url(#gH)"/>
<circle cx="985.0" cy="984.0" r="7.2" fill="url(#gH)"/>
<line x1="1368.2" y1="1013.1" x2="1385.9" y2="1042.3" stroke="#b4b4b4" stroke-width="6.9"/>
<line x1="1366.1" y1="1014.3" x2="1383.9" y2="1043.6" stroke="#404040" stroke-width="2.6"/>
<line x1="1370.2" y1="1011.8" x2="1388.0" y2="1041.1" stroke="#404040" stroke-width="2.6"/>
<line x1="1281.8" y1="1044.5" x2="1316.5" y2="1043.8" stroke="#4a4a4a" stroke-width="3.6"/>
<line x1="1316.5" y1="1043.8" x2="1333.5" y2="1013.8" stroke="#b4b4b4" stroke-width="6.9"/>
<line x1="1318.6" y1="1045.0" x2="1335.6" y2="1015.0" stroke="#404040" stroke-width="2.6"/>
<line x1="1314.4" y1="1042.6" x2="1331.4" y2="1012.6" stroke="#404040" stroke-width="2.6"/>
<line x1="1332.9" y1="954.6" x2="1367.3" y2="953.8" stroke="#4a4a4a" stroke-width="3.6"/>
<line x1="1435.1" y1="892.8" x2="1469.3" y2="892.0" stroke="#4a4a4a" stroke-width="3.6"/>
<line x1="1385.0" y1="983.0" x2="1419.6" y2="982.3" stroke="#4a4a4a" stroke-width="3.6"/>
<line x1="1436.2" y1="952.2" x2="1470.7" y2="951.4" stroke="#4a4a4a" stroke-width="3.6"/>
<line x1="1281.4" y1="985.4" x2="1315.9" y2="984.6" stroke="#b4b4b4" stroke-width="6.9"/>
<line x1="1281.5" y1="987.8" x2="1316.0" y2="987.0" stroke="#404040" stroke-width="2.6"/>
<line x1="1281.3" y1="983.0" x2="1315.9" y2="982.2" stroke="#404040" stroke-width="2.6"/>
<line x1="1333.5" y1="1013.8" x2="1368.2" y2="1013.1" stroke="#4a4a4a" stroke-width="3.6"/>
<line x1="1315.9" y1="984.6" x2="1332.9" y2="954.6" stroke="#4a4a4a" stroke-width="3.6"/>
<line x1="1263.7" y1="897.2" x2="1281.0" y2="926.3" stroke="#4a4a4a" stroke-width="3.6"/>
<line x1="1472.1" y1="1010.8" x2="1488.7" y2="980.7" stroke="#4a4a4a" stroke-width="3.6"/>
<line x1="1521.6" y1="920.4" x2="1539.6" y2="949.7" stroke="#4a4a4a" stroke-width="3.6"/>
<line x1="1383.2" y1="864.5" x2="1417.4" y2="863.6" stroke="#b4b4b4" stroke-width="6.9"/>
<line x1="1383.3" y1="866.9" x2="1417.5" y2="866.0" stroke="#404040" stroke-width="2.6"/>
<line x1="1383.1" y1="862.1" x2="1417.3" y2="861.2" stroke="#404040" stroke-width="2.6"/>
<line x1="1280.7" y1="867.2" x2="1314.9" y2="866.3" stroke="#4a4a4a" stroke-width="3.6"/>
<line x1="1418.5" y1="922.9" x2="1435.1" y2="892.8" stroke="#b4b4b4" stroke-width="6.9"/>
<line x1="1420.6" y1="924.1" x2="1437.2" y2="894.0" stroke="#404040" stroke-width="2.6"/>
<line x1="1416.4" y1="921.8" x2="1433.0" y2="891.7" stroke="#404040" stroke-width="2.6"/>
<line x1="1419.6" y1="982.3" x2="1437.4" y2="1011.5" stroke="#b4b4b4" stroke-width="6.9"/>
<line x1="1417.5" y1="983.5" x2="1435.4" y2="1012.8" stroke="#404040" stroke-width="2.6"/>
<line x1="1421.6" y1="981.0" x2="1439.5" y2="1010.3" stroke="#404040" stroke-width="2.6"/>
<line x1="1366.5" y1="894.6" x2="1383.2" y2="864.5" stroke="#4a4a4a" stroke-width="3.6"/>
<line x1="1315.4" y1="925.5" x2="1332.9" y2="954.6" stroke="#b4b4b4" stroke-width="6.9"/>
<line x1="1313.3" y1="926.7" x2="1330.8" y2="955.9" stroke="#404040" stroke-width="2.6"/>
<line x1="1317.5" y1="924.2" x2="1335.0" y2="953.4" stroke="#404040" stroke-width="2.6"/>
<line x1="1384.1" y1="923.8" x2="1418.5" y2="922.9" stroke="#4a4a4a" stroke-width="3.6"/>
<line x1="1487.2" y1="921.2" x2="1521.6" y2="920.4" stroke="#b4b4b4" stroke-width="6.9"/>
<line x1="1487.3" y1="923.7" x2="1521.6" y2="922.8" stroke="#404040" stroke-width="2.6"/>
<line x1="1487.1" y1="918.8" x2="1521.5" y2="918.0" stroke="#404040" stroke-width="2.6"/>
<line x1="1264.0" y1="956.3" x2="1281.0" y2="926.3" stroke="#b4b4b4" stroke-width="6.9"/>
<line x1="1266.1" y1="957.5" x2="1283.1" y2="927.5" stroke="#404040" stroke-width="2.6"/>
<line x1="1261.9" y1="955.1" x2="1278.9" y2="925.1" stroke="#404040" stroke-width="2.6"/>
<line x1="1523.2" y1="979.9" x2="1541.3" y2="1009.2" stroke="#4a4a4a" stroke-width="3.6"/>
<line x1="1332.3" y1="895.4" x2="1366.5" y2="894.6" stroke="#4a4a4a" stroke-width="3.6"/>
<line x1="1264.3" y1="1015.4" x2="1281.4" y2="985.4" stroke="#4a4a4a" stroke-width="3.6"/>
<line x1="1315.9" y1="984.6" x2="1333.5" y2="1013.8" stroke="#4a4a4a" stroke-width="3.6"/>
<line x1="1470.7" y1="951.4" x2="1487.2" y2="921.2" stroke="#4a4a4a" stroke-width="3.6"/>
<line x1="1472.1" y1="1010.8" x2="1490.1" y2="1040.1" stroke="#b4b4b4" stroke-width="6.9"/>
<line x1="1470.0" y1="1012.0" x2="1488.1" y2="1041.4" stroke="#404040" stroke-width="2.6"/>
<line x1="1474.1" y1="1009.5" x2="1492.2" y2="1038.8" stroke="#404040" stroke-width="2.6"/>
<line x1="1281.0" y1="926.3" x2="1315.4" y2="925.5" stroke="#4a4a4a" stroke-width="3.6"/>
<line x1="1367.3" y1="953.8" x2="1385.0" y2="983.0" stroke="#b4b4b4" stroke-width="6.9"/>
<line x1="1365.3" y1="955.1" x2="1383.0" y2="984.3" stroke="#404040" stroke-width="2.6"/>
<line x1="1369.4" y1="952.6" x2="1387.1" y2="981.8" stroke="#404040" stroke-width="2.6"/>
<line x1="1418.5" y1="922.9" x2="1436.2" y2="952.2" stroke="#4a4a4a" stroke-width="3.6"/>
<line x1="1417.4" y1="863.6" x2="1435.1" y2="892.8" stroke="#4a4a4a" stroke-width="3.6"/>
<line x1="1524.8" y1="1039.4" x2="1541.3" y2="1009.2" stroke="#b4b4b4" stroke-width="6.9"/>
<line x1="1527.0" y1="1040.5" x2="1543.4" y2="1010.4" stroke="#404040" stroke-width="2.6"/>
<line x1="1522.7" y1="1038.2" x2="1539.2" y2="1008.1" stroke="#404040" stroke-width="2.6"/>
<line x1="1469.3" y1="892.0" x2="1485.7" y2="861.8" stroke="#b4b4b4" stroke-width="6.9"/>
<line x1="1471.5" y1="893.1" x2="1487.9" y2="863.0" stroke="#404040" stroke-width="2.6"/>
<line x1="1467.2" y1="890.8" x2="1483.6" y2="860.7" stroke="#404040" stroke-width="2.6"/>
<line x1="1264.3" y1="1015.4" x2="1281.8" y2="1044.5" stroke="#b4b4b4" stroke-width="6.9"/>
<line x1="1262.2" y1="1016.6" x2="1279.7" y2="1045.8" stroke="#404040" stroke-width="2.6"/>
<line x1="1266.3" y1="1014.1" x2="1283.8" y2="1043.3" stroke="#404040" stroke-width="2.6"/>
<line x1="1314.9" y1="866.3" x2="1332.3" y2="895.4" stroke="#b4b4b4" stroke-width="6.9"/>
<line x1="1312.8" y1="867.5" x2="1330.2" y2="896.7" stroke="#404040" stroke-width="2.6"/>
<line x1="1316.9" y1="865.0" x2="1334.3" y2="894.2" stroke="#404040" stroke-width="2.6"/>
<line x1="1366.5" y1="894.6" x2="1384.1" y2="923.8" stroke="#b4b4b4" stroke-width="6.9"/>
<line x1="1364.5" y1="895.8" x2="1382.1" y2="925.0" stroke="#404040" stroke-width="2.6"/>
<line x1="1368.6" y1="893.3" x2="1386.2" y2="922.5" stroke="#404040" stroke-width="2.6"/>
<line x1="1368.2" y1="1013.1" x2="1385.0" y2="983.0" stroke="#4a4a4a" stroke-width="3.6"/>
<line x1="1419.6" y1="982.3" x2="1436.2" y2="952.2" stroke="#4a4a4a" stroke-width="3.6"/>
<line x1="1490.1" y1="1040.1" x2="1524.8" y2="1039.4" stroke="#4a4a4a" stroke-width="3.6"/>
<line x1="1488.7" y1="980.7" x2="1523.2" y2="979.9" stroke="#4a4a4a" stroke-width="3.6"/>
<line x1="1315.4" y1="925.5" x2="1332.3" y2="895.4" stroke="#4a4a4a" stroke-width="3.6"/>
<line x1="1519.9" y1="860.9" x2="1537.9" y2="890.2" stroke="#b4b4b4" stroke-width="6.9"/>
<line x1="1517.9" y1="862.2" x2="1535.8" y2="891.5" stroke="#404040" stroke-width="2.6"/>
<line x1="1522.0" y1="859.7" x2="1539.9" y2="889.0" stroke="#404040" stroke-width="2.6"/>
<line x1="1521.6" y1="920.4" x2="1537.9" y2="890.2" stroke="#4a4a4a" stroke-width="3.6"/>
<line x1="1437.4" y1="1011.5" x2="1472.1" y2="1010.8" stroke="#4a4a4a" stroke-width="3.6"/>
<line x1="1263.7" y1="897.2" x2="1280.7" y2="867.2" stroke="#b4b4b4" stroke-width="6.9"/>
<line x1="1265.8" y1="898.4" x2="1282.8" y2="868.4" stroke="#404040" stroke-width="2.6"/>
<line x1="1261.6" y1="896.0" x2="1278.6" y2="866.0" stroke="#404040" stroke-width="2.6"/>
<line x1="1469.3" y1="892.0" x2="1487.2" y2="921.2" stroke="#4a4a4a" stroke-width="3.6"/>
<line x1="1485.7" y1="861.8" x2="1519.9" y2="860.9" stroke="#4a4a4a" stroke-width="3.6"/>
<line x1="1523.2" y1="979.9" x2="1539.6" y2="949.7" stroke="#b4b4b4" stroke-width="6.9"/>
<line x1="1525.3" y1="981.0" x2="1541.7" y2="950.9" stroke="#404040" stroke-width="2.6"/>
<line x1="1521.1" y1="978.7" x2="1537.5" y2="948.6" stroke="#404040" stroke-width="2.6"/>
<line x1="1385.9" y1="1042.3" x2="1420.7" y2="1041.6" stroke="#4a4a4a" stroke-width="3.6"/>
<line x1="1420.7" y1="1041.6" x2="1437.4" y2="1011.5" stroke="#4a4a4a" stroke-width="3.6"/>
<line x1="1367.3" y1="953.8" x2="1384.1" y2="923.8" stroke="#4a4a4a" stroke-width="3.6"/>
<line x1="1470.7" y1="951.4" x2="1488.7" y2="980.7" stroke="#b4b4b4" stroke-width="6.9"/>
<line x1="1468.6" y1="952.6" x2="1486.6" y2="981.9" stroke="#404040" stroke-width="2.6"/>
<line x1="1472.8" y1="950.1" x2="1490.7" y2="979.4" stroke="#404040" stroke-width="2.6"/>
<line x1="1264.0" y1="956.3" x2="1281.4" y2="985.4" stroke="#4a4a4a" stroke-width="3.6"/>
<line x1="1280.7" y1="867.2" x2="1267.2" y2="844.5" stroke="#555" stroke-width="3.3"/>
<line x1="1314.9" y1="866.3" x2="1328.0" y2="842.8" stroke="#555" stroke-width="3.3"/>
<line x1="1263.7" y1="897.2" x2="1237.0" y2="897.8" stroke="#555" stroke-width="3.3"/>
<line x1="1264.0" y1="956.3" x2="1237.1" y2="956.9" stroke="#555" stroke-width="3.3"/>
<line x1="1316.5" y1="1043.8" x2="1330.3" y2="1066.6" stroke="#555" stroke-width="3.3"/>
<line x1="1281.8" y1="1044.5" x2="1268.3" y2="1067.9" stroke="#555" stroke-width="3.3"/>
<line x1="1264.3" y1="1015.4" x2="1237.3" y2="1016.0" stroke="#555" stroke-width="3.3"/>
<line x1="1383.2" y1="864.5" x2="1369.6" y2="841.7" stroke="#555" stroke-width="3.3"/>
<line x1="1417.4" y1="863.6" x2="1430.3" y2="840.1" stroke="#555" stroke-width="3.3"/>
<line x1="1385.9" y1="1042.3" x2="1372.7" y2="1065.7" stroke="#555" stroke-width="3.3"/>
<line x1="1485.7" y1="861.8" x2="1471.9" y2="839.0" stroke="#555" stroke-width="3.3"/>
<line x1="1519.9" y1="860.9" x2="1532.6" y2="837.4" stroke="#555" stroke-width="3.3"/>
<line x1="1537.9" y1="890.2" x2="1564.6" y2="889.6" stroke="#555" stroke-width="3.3"/>
<line x1="1539.6" y1="949.7" x2="1566.5" y2="949.1" stroke="#555" stroke-width="3.3"/>
<line x1="1541.3" y1="1009.2" x2="1568.3" y2="1008.6" stroke="#555" stroke-width="3.3"/>
<line x1="1524.8" y1="1039.4" x2="1539.0" y2="1062.3" stroke="#555" stroke-width="3.3"/>
<line x1="1490.1" y1="1040.1" x2="1477.1" y2="1063.6" stroke="#555" stroke-width="3.3"/>
<line x1="1418.5" y1="1042.6" x2="1425.0" y2="1057.4" stroke="#4a4a4a" stroke-width="2.6"/>
<line x1="1425.0" y1="1057.4" x2="1431.6" y2="1072.2" stroke="#e01818" stroke-width="2.6"/>
<line x1="1422.9" y1="1040.6" x2="1429.4" y2="1055.4" stroke="#4a4a4a" stroke-width="2.6"/>
<line x1="1429.4" y1="1055.4" x2="1436.0" y2="1070.2" stroke="#e01818" stroke-width="2.6"/>
<circle cx="1280.7" cy="867.2" r="11.5" fill="url(#gC)"/>
<circle cx="1314.9" cy="866.3" r="11.5" fill="url(#gC)"/>
<circle cx="1332.3" cy="895.4" r="11.5" fill="url(#gC)"/>
<circle cx="1315.4" cy="925.5" r="11.5" fill="url(#gC)"/>
<circle cx="1281.0" cy="926.3" r="11.5" fill="url(#gC)"/>
<circle cx="1263.7" cy="897.2" r="11.5" fill="url(#gC)"/>
<circle cx="1332.9" cy="954.6" r="11.5" fill="url(#gC)"/>
<circle cx="1315.9" cy="984.6" r="11.5" fill="url(#gC)"/>
<circle cx="1281.4" cy="985.4" r="11.5" fill="url(#gC)"/>
<circle cx="1264.0" cy="956.3" r="11.5" fill="url(#gC)"/>
<circle cx="1333.5" cy="1013.8" r="11.5" fill="url(#gC)"/>
<circle cx="1316.5" cy="1043.8" r="11.5" fill="url(#gC)"/>
<circle cx="1281.8" cy="1044.5" r="11.5" fill="url(#gC)"/>
<circle cx="1264.3" cy="1015.4" r="11.5" fill="url(#gC)"/>
<circle cx="1366.5" cy="894.6" r="11.5" fill="url(#gC)"/>
<circle cx="1384.1" cy="923.8" r="11.5" fill="url(#gC)"/>
<circle cx="1367.3" cy="953.8" r="11.5" fill="url(#gC)"/>
<circle cx="1385.0" cy="983.0" r="11.5" fill="url(#gC)"/>
<circle cx="1368.2" cy="1013.1" r="11.5" fill="url(#gC)"/>
<circle cx="1383.2" cy="864.5" r="11.5" fill="url(#gC)"/>
<circle cx="1417.4" cy="863.6" r="11.5" fill="url(#gC)"/>
<circle cx="1435.1" cy="892.8" r="11.5" fill="url(#gC)"/>
<circle cx="1418.5" cy="922.9" r="11.5" fill="url(#gC)"/>
<circle cx="1436.2" cy="952.2" r="11.5" fill="url(#gC)"/>
<circle cx="1419.6" cy="982.3" r="11.5" fill="url(#gC)"/>
<circle cx="1437.4" cy="1011.5" r="11.5" fill="url(#gC)"/>
<circle cx="1420.7" cy="1041.6" r="11.5" fill="url(#gC)"/>
<circle cx="1385.9" cy="1042.3" r="11.5" fill="url(#gC)"/>
<circle cx="1469.3" cy="892.0" r="11.5" fill="url(#gC)"/>
<circle cx="1487.2" cy="921.2" r="11.5" fill="url(#gC)"/>
<circle cx="1470.7" cy="951.4" r="11.5" fill="url(#gC)"/>
<circle cx="1488.7" cy="980.7" r="11.5" fill="url(#gC)"/>
<circle cx="1472.1" cy="1010.8" r="11.5" fill="url(#gC)"/>
<circle cx="1485.7" cy="861.8" r="11.5" fill="url(#gC)"/>
<circle cx="1519.9" cy="860.9" r="11.5" fill="url(#gC)"/>
<circle cx="1537.9" cy="890.2" r="11.5" fill="url(#gC)"/>
<circle cx="1521.6" cy="920.4" r="11.5" fill="url(#gC)"/>
<circle cx="1539.6" cy="949.7" r="11.5" fill="url(#gC)"/>
<circle cx="1523.2" cy="979.9" r="11.5" fill="url(#gC)"/>
<circle cx="1541.3" cy="1009.2" r="11.5" fill="url(#gC)"/>
<circle cx="1524.8" cy="1039.4" r="11.5" fill="url(#gC)"/>
<circle cx="1490.1" cy="1040.1" r="11.5" fill="url(#gC)"/>
<circle cx="1267.2" cy="844.5" r="7.7" fill="url(#gH)"/>
<circle cx="1328.0" cy="842.8" r="7.7" fill="url(#gH)"/>
<circle cx="1237.0" cy="897.8" r="7.7" fill="url(#gH)"/>
<circle cx="1237.1" cy="956.9" r="7.7" fill="url(#gH)"/>
<circle cx="1330.3" cy="1066.6" r="7.7" fill="url(#gH)"/>
<circle cx="1268.3" cy="1067.9" r="7.7" fill="url(#gH)"/>
<circle cx="1237.3" cy="1016.0" r="7.7" fill="url(#gH)"/>
<circle cx="1369.6" cy="841.7" r="7.7" fill="url(#gH)"/>
<circle cx="1430.3" cy="840.1" r="7.7" fill="url(#gH)"/>
<circle cx="1372.7" cy="1065.7" r="7.7" fill="url(#gH)"/>
<circle cx="1471.9" cy="839.0" r="7.7" fill="url(#gH)"/>
<circle cx="1532.6" cy="837.4" r="7.7" fill="url(#gH)"/>
<circle cx="1564.6" cy="889.6" r="7.7" fill="url(#gH)"/>
<circle cx="1566.5" cy="949.1" r="7.7" fill="url(#gH)"/>
<circle cx="1568.3" cy="1008.6" r="7.7" fill="url(#gH)"/>
<circle cx="1539.0" cy="1062.3" r="7.7" fill="url(#gH)"/>
<circle cx="1477.1" cy="1063.6" r="7.7" fill="url(#gH)"/>
<circle cx="1433.8" cy="1071.2" r="9.6" fill="url(#gO)"/>
<line x1="1805.0" y1="1011.6" x2="1822.7" y2="1041.2" stroke="#4a4a4a" stroke-width="3.7"/>
<line x1="1717.6" y1="1041.8" x2="1752.7" y2="1041.6" stroke="#b4b4b4" stroke-width="7.0"/>
<line x1="1717.7" y1="1044.2" x2="1752.7" y2="1044.0" stroke="#404040" stroke-width="2.6"/>
<line x1="1717.6" y1="1039.3" x2="1752.6" y2="1039.1" stroke="#404040" stroke-width="2.6"/>
<line x1="1752.7" y1="1041.6" x2="1770.1" y2="1011.8" stroke="#4a4a4a" stroke-width="3.7"/>
<line x1="1769.9" y1="952.6" x2="1804.7" y2="952.2" stroke="#4a4a4a" stroke-width="3.7"/>
<line x1="1873.9" y1="891.7" x2="1908.7" y2="891.2" stroke="#4a4a4a" stroke-width="3.7"/>
<line x1="1822.3" y1="981.7" x2="1857.2" y2="981.4" stroke="#4a4a4a" stroke-width="3.7"/>
<line x1="1874.4" y1="951.4" x2="1909.3" y2="951.0" stroke="#4a4a4a" stroke-width="3.7"/>
<line x1="1717.6" y1="982.7" x2="1752.5" y2="982.4" stroke="#4a4a4a" stroke-width="3.7"/>
<line x1="1770.1" y1="1011.8" x2="1805.0" y2="1011.6" stroke="#4a4a4a" stroke-width="3.7"/>
<line x1="1752.5" y1="982.4" x2="1769.9" y2="952.6" stroke="#4a4a4a" stroke-width="3.7"/>
<line x1="1700.2" y1="894.3" x2="1717.5" y2="923.6" stroke="#4a4a4a" stroke-width="3.7"/>
<line x1="1909.9" y1="1010.8" x2="1927.1" y2="980.7" stroke="#4a4a4a" stroke-width="3.7"/>
<line x1="1961.2" y1="920.4" x2="1979.0" y2="950.2" stroke="#4a4a4a" stroke-width="3.7"/>
<line x1="1821.6" y1="862.8" x2="1856.3" y2="862.2" stroke="#4a4a4a" stroke-width="3.7"/>
<line x1="1717.5" y1="864.5" x2="1752.2" y2="863.9" stroke="#4a4a4a" stroke-width="3.7"/>
<line x1="1856.8" y1="921.8" x2="1873.9" y2="891.7" stroke="#4a4a4a" stroke-width="3.7"/>
<line x1="1857.2" y1="981.4" x2="1875.0" y2="1011.0" stroke="#b4b4b4" stroke-width="7.0"/>
<line x1="1855.1" y1="982.6" x2="1872.9" y2="1012.3" stroke="#404040" stroke-width="2.6"/>
<line x1="1859.3" y1="980.1" x2="1877.1" y2="1009.8" stroke="#404040" stroke-width="2.6"/>
<line x1="1804.4" y1="892.8" x2="1821.6" y2="862.8" stroke="#b4b4b4" stroke-width="7.0"/>
<line x1="1806.5" y1="894.0" x2="1823.7" y2="864.0" stroke="#404040" stroke-width="2.6"/>
<line x1="1802.3" y1="891.6" x2="1819.5" y2="861.6" stroke="#404040" stroke-width="2.6"/>
<line x1="1752.4" y1="923.1" x2="1769.9" y2="952.6" stroke="#b4b4b4" stroke-width="7.0"/>
<line x1="1750.3" y1="924.4" x2="1767.8" y2="953.8" stroke="#404040" stroke-width="2.6"/>
<line x1="1754.4" y1="921.9" x2="1772.0" y2="951.3" stroke="#404040" stroke-width="2.6"/>
<line x1="1822.0" y1="922.2" x2="1856.8" y2="921.8" stroke="#4a4a4a" stroke-width="3.7"/>
<line x1="1926.4" y1="920.9" x2="1961.2" y2="920.4" stroke="#b4b4b4" stroke-width="7.0"/>
<line x1="1926.4" y1="923.3" x2="1961.2" y2="922.9" stroke="#404040" stroke-width="2.6"/>
<line x1="1926.3" y1="918.4" x2="1961.1" y2="918.0" stroke="#404040" stroke-width="2.6"/>
<line x1="1700.1" y1="953.3" x2="1717.5" y2="923.6" stroke="#b4b4b4" stroke-width="7.0"/>
<line x1="1702.2" y1="954.6" x2="1719.7" y2="924.8" stroke="#404040" stroke-width="2.6"/>
<line x1="1698.0" y1="952.1" x2="1715.4" y2="922.4" stroke="#404040" stroke-width="2.6"/>
<line x1="1962.0" y1="980.4" x2="1979.9" y2="1010.2" stroke="#4a4a4a" stroke-width="3.7"/>
<line x1="1769.7" y1="893.3" x2="1804.4" y2="892.8" stroke="#4a4a4a" stroke-width="3.7"/>
<line x1="1700.1" y1="1012.4" x2="1717.6" y2="982.7" stroke="#b4b4b4" stroke-width="7.0"/>
<line x1="1702.2" y1="1013.6" x2="1719.7" y2="983.9" stroke="#404040" stroke-width="2.6"/>
<line x1="1698.0" y1="1011.1" x2="1715.5" y2="981.5" stroke="#404040" stroke-width="2.6"/>
<line x1="1752.5" y1="982.4" x2="1770.1" y2="1011.8" stroke="#b4b4b4" stroke-width="7.0"/>
<line x1="1750.4" y1="983.6" x2="1768.0" y2="1013.1" stroke="#404040" stroke-width="2.6"/>
<line x1="1754.6" y1="981.1" x2="1772.2" y2="1010.6" stroke="#404040" stroke-width="2.6"/>
<line x1="1909.3" y1="951.0" x2="1926.4" y2="920.9" stroke="#4a4a4a" stroke-width="3.7"/>
<line x1="1909.9" y1="1010.8" x2="1927.8" y2="1040.6" stroke="#b4b4b4" stroke-width="7.0"/>
<line x1="1907.8" y1="1012.0" x2="1925.7" y2="1041.8" stroke="#404040" stroke-width="2.6"/>
<line x1="1912.0" y1="1009.5" x2="1929.9" y2="1039.3" stroke="#404040" stroke-width="2.6"/>
<line x1="1717.5" y1="923.6" x2="1752.4" y2="923.1" stroke="#4a4a4a" stroke-width="3.7"/>
<line x1="1804.7" y1="952.2" x2="1822.3" y2="981.7" stroke="#4a4a4a" stroke-width="3.7"/>
<line x1="1856.8" y1="921.8" x2="1874.4" y2="951.4" stroke="#b4b4b4" stroke-width="7.0"/>
<line x1="1854.7" y1="923.0" x2="1872.3" y2="952.6" stroke="#404040" stroke-width="2.6"/>
<line x1="1858.9" y1="920.5" x2="1876.5" y2="950.1" stroke="#404040" stroke-width="2.6"/>
<line x1="1856.3" y1="862.2" x2="1873.9" y2="891.7" stroke="#b4b4b4" stroke-width="7.0"/>
<line x1="1854.2" y1="863.4" x2="1871.8" y2="893.0" stroke="#404040" stroke-width="2.6"/>
<line x1="1858.4" y1="860.9" x2="1876.0" y2="890.5" stroke="#404040" stroke-width="2.6"/>
<line x1="1962.8" y1="1040.3" x2="1979.9" y2="1010.2" stroke="#b4b4b4" stroke-width="7.0"/>
<line x1="1964.9" y1="1041.6" x2="1982.0" y2="1011.4" stroke="#404040" stroke-width="2.6"/>
<line x1="1960.7" y1="1039.1" x2="1977.7" y2="1009.0" stroke="#404040" stroke-width="2.6"/>
<line x1="1908.7" y1="891.2" x2="1925.7" y2="861.0" stroke="#b4b4b4" stroke-width="7.0"/>
<line x1="1910.8" y1="892.4" x2="1927.8" y2="862.2" stroke="#404040" stroke-width="2.6"/>
<line x1="1906.5" y1="890.0" x2="1923.6" y2="859.8" stroke="#404040" stroke-width="2.6"/>
<line x1="1700.1" y1="1012.4" x2="1717.6" y2="1041.8" stroke="#4a4a4a" stroke-width="3.7"/>
<line x1="1752.2" y1="863.9" x2="1769.7" y2="893.3" stroke="#b4b4b4" stroke-width="7.0"/>
<line x1="1750.1" y1="865.2" x2="1767.6" y2="894.5" stroke="#404040" stroke-width="2.6"/>
<line x1="1754.3" y1="862.7" x2="1771.7" y2="892.0" stroke="#404040" stroke-width="2.6"/>
<line x1="1804.4" y1="892.8" x2="1822.0" y2="922.2" stroke="#4a4a4a" stroke-width="3.7"/>
<line x1="1805.0" y1="1011.6" x2="1822.3" y2="981.7" stroke="#b4b4b4" stroke-width="7.0"/>
<line x1="1807.1" y1="1012.8" x2="1824.4" y2="982.9" stroke="#404040" stroke-width="2.6"/>
<line x1="1802.9" y1="1010.3" x2="1820.2" y2="980.5" stroke="#404040" stroke-width="2.6"/>
<line x1="1857.2" y1="981.4" x2="1874.4" y2="951.4" stroke="#4a4a4a" stroke-width="3.7"/>
<line x1="1927.8" y1="1040.6" x2="1962.8" y2="1040.3" stroke="#4a4a4a" stroke-width="3.7"/>
<line x1="1927.1" y1="980.7" x2="1962.0" y2="980.4" stroke="#4a4a4a" stroke-width="3.7"/>
<line x1="1752.4" y1="923.1" x2="1769.7" y2="893.3" stroke="#4a4a4a" stroke-width="3.7"/>
<line x1="1960.4" y1="860.5" x2="1978.2" y2="890.2" stroke="#b4b4b4" stroke-width="7.0"/>
<line x1="1958.3" y1="861.7" x2="1976.1" y2="891.4" stroke="#404040" stroke-width="2.6"/>
<line x1="1962.5" y1="859.2" x2="1980.2" y2="888.9" stroke="#404040" stroke-width="2.6"/>
<line x1="1961.2" y1="920.4" x2="1978.2" y2="890.2" stroke="#4a4a4a" stroke-width="3.7"/>
<line x1="1875.0" y1="1011.0" x2="1909.9" y2="1010.8" stroke="#4a4a4a" stroke-width="3.7"/>
<line x1="1700.2" y1="894.3" x2="1717.5" y2="864.5" stroke="#b4b4b4" stroke-width="7.0"/>
<line x1="1702.3" y1="895.5" x2="1719.6" y2="865.7" stroke="#404040" stroke-width="2.6"/>
<line x1="1698.0" y1="893.1" x2="1715.4" y2="863.3" stroke="#404040" stroke-width="2.6"/>
<line x1="1908.7" y1="891.2" x2="1926.4" y2="920.9" stroke="#4a4a4a" stroke-width="3.7"/>
<line x1="1925.7" y1="861.0" x2="1960.4" y2="860.5" stroke="#4a4a4a" stroke-width="3.7"/>
<line x1="1962.0" y1="980.4" x2="1979.0" y2="950.2" stroke="#b4b4b4" stroke-width="7.0"/>
<line x1="1964.1" y1="981.6" x2="1981.1" y2="951.4" stroke="#404040" stroke-width="2.6"/>
<line x1="1959.9" y1="979.2" x2="1976.9" y2="949.0" stroke="#404040" stroke-width="2.6"/>
<line x1="1822.7" y1="1041.2" x2="1857.7" y2="1041.0" stroke="#4a4a4a" stroke-width="3.7"/>
<line x1="1857.7" y1="1041.0" x2="1875.0" y2="1011.0" stroke="#4a4a4a" stroke-width="3.7"/>
<line x1="1804.7" y1="952.2" x2="1822.0" y2="922.2" stroke="#b4b4b4" stroke-width="7.0"/>
<line x1="1806.8" y1="953.4" x2="1824.1" y2="923.5" stroke="#404040" stroke-width="2.6"/>
<line x1="1802.6" y1="950.9" x2="1819.8" y2="921.0" stroke="#404040" stroke-width="2.6"/>
<line x1="1909.3" y1="951.0" x2="1927.1" y2="980.7" stroke="#b4b4b4" stroke-width="7.0"/>
<line x1="1907.2" y1="952.2" x2="1925.0" y2="982.0" stroke="#404040" stroke-width="2.6"/>
<line x1="1911.4" y1="949.7" x2="1929.2" y2="979.5" stroke="#404040" stroke-width="2.6"/>
<line x1="1700.1" y1="953.3" x2="1717.6" y2="982.7" stroke="#4a4a4a" stroke-width="3.7"/>
<line x1="1717.5" y1="864.5" x2="1704.0" y2="841.7" stroke="#555" stroke-width="3.3"/>
<line x1="1752.2" y1="863.9" x2="1765.7" y2="840.6" stroke="#555" stroke-width="3.3"/>
<line x1="1700.2" y1="894.3" x2="1673.0" y2="894.7" stroke="#555" stroke-width="3.3"/>
<line x1="1700.1" y1="953.3" x2="1673.0" y2="953.6" stroke="#555" stroke-width="3.3"/>
<line x1="1752.7" y1="1041.6" x2="1766.4" y2="1064.6" stroke="#555" stroke-width="3.3"/>
<line x1="1717.6" y1="1041.8" x2="1704.0" y2="1064.9" stroke="#555" stroke-width="3.3"/>
<line x1="1700.1" y1="1012.4" x2="1672.9" y2="1012.6" stroke="#555" stroke-width="3.3"/>
<line x1="1821.6" y1="862.8" x2="1807.9" y2="839.8" stroke="#555" stroke-width="3.3"/>
<line x1="1856.3" y1="862.2" x2="1869.6" y2="838.7" stroke="#555" stroke-width="3.3"/>
<line x1="1857.7" y1="1041.0" x2="1871.6" y2="1064.1" stroke="#555" stroke-width="3.3"/>
<line x1="1925.7" y1="861.0" x2="1911.9" y2="837.9" stroke="#555" stroke-width="3.3"/>
<line x1="1960.4" y1="860.5" x2="1973.6" y2="836.8" stroke="#555" stroke-width="3.3"/>
<line x1="1978.2" y1="890.2" x2="2005.3" y2="889.8" stroke="#555" stroke-width="3.3"/>
<line x1="1979.0" y1="950.2" x2="2006.2" y2="949.9" stroke="#555" stroke-width="3.3"/>
<line x1="1979.9" y1="1010.2" x2="2007.1" y2="1010.0" stroke="#555" stroke-width="3.3"/>
<line x1="1962.8" y1="1040.3" x2="1976.8" y2="1063.7" stroke="#555" stroke-width="3.3"/>
<line x1="1927.8" y1="1040.6" x2="1914.4" y2="1063.9" stroke="#555" stroke-width="3.3"/>
<line x1="1822.7" y1="1041.2" x2="1818.9" y2="1050.6" stroke="#4a4a4a" stroke-width="3.3"/>
<line x1="1818.9" y1="1050.6" x2="1815.0" y2="1060.0" stroke="#e01818" stroke-width="3.3"/>
<line x1="1815.0" y1="1062.0" x2="1815.4" y2="1072.8" stroke="#e01818" stroke-width="3.3"/>
<line x1="1815.4" y1="1072.8" x2="1815.8" y2="1083.5" stroke="#505050" stroke-width="3.3"/>
<circle cx="1717.5" cy="864.5" r="11.7" fill="url(#gC)"/>
<circle cx="1752.2" cy="863.9" r="11.7" fill="url(#gC)"/>
<circle cx="1769.7" cy="893.3" r="11.7" fill="url(#gC)"/>
<circle cx="1752.4" cy="923.1" r="11.7" fill="url(#gC)"/>
<circle cx="1717.5" cy="923.6" r="11.7" fill="url(#gC)"/>
<circle cx="1700.2" cy="894.3" r="11.7" fill="url(#gC)"/>
<circle cx="1769.9" cy="952.6" r="11.7" fill="url(#gC)"/>
<circle cx="1752.5" cy="982.4" r="11.7" fill="url(#gC)"/>
<circle cx="1717.6" cy="982.7" r="11.7" fill="url(#gC)"/>
<circle cx="1700.1" cy="953.3" r="11.7" fill="url(#gC)"/>
<circle cx="1770.1" cy="1011.8" r="11.7" fill="url(#gC)"/>
<circle cx="1752.7" cy="1041.6" r="11.7" fill="url(#gC)"/>
<circle cx="1717.6" cy="1041.8" r="11.7" fill="url(#gC)"/>
<circle cx="1700.1" cy="1012.4" r="11.7" fill="url(#gC)"/>
<circle cx="1804.4" cy="892.8" r="11.7" fill="url(#gC)"/>
<circle cx="1822.0" cy="922.2" r="11.7" fill="url(#gC)"/>
<circle cx="1804.7" cy="952.2" r="11.7" fill="url(#gC)"/>
<circle cx="1822.3" cy="981.7" r="11.7" fill="url(#gC)"/>
<circle cx="1805.0" cy="1011.6" r="11.7" fill="url(#gC)"/>
<circle cx="1821.6" cy="862.8" r="11.7" fill="url(#gC)"/>
<circle cx="1856.3" cy="862.2" r="11.7" fill="url(#gC)"/>
<circle cx="1873.9" cy="891.7" r="11.7" fill="url(#gC)"/>
<circle cx="1856.8" cy="921.8" r="11.7" fill="url(#gC)"/>
<circle cx="1874.4" cy="951.4" r="11.7" fill="url(#gC)"/>
<circle cx="1857.2" cy="981.4" r="11.7" fill="url(#gC)"/>
<circle cx="1875.0" cy="1011.0" r="11.7" fill="url(#gC)"/>
<circle cx="1857.7" cy="1041.0" r="11.7" fill="url(#gC)"/>
<circle cx="1822.7" cy="1041.2" r="11.7" fill="url(#gC)"/>
<circle cx="1908.7" cy="891.2" r="11.7" fill="url(#gC)"/>
<circle cx="1926.4" cy="920.9" r="11.7" fill="url(#gC)"/>
<circle cx="1909.3" cy="951.0" r="11.7" fill="url(#gC)"/>
<circle cx="1927.1" cy="980.7" r="11.7" fill="url(#gC)"/>
<circle cx="1909.9" cy="1010.8" r="11.7" fill="url(#gC)"/>
<circle cx="1925.7" cy="861.0" r="11.7" fill="url(#gC)"/>
<circle cx="1960.4" cy="860.5" r="11.7" fill="url(#gC)"/>
<circle cx="1978.2" cy="890.2" r="11.7" fill="url(#gC)"/>
<circle cx="1961.2" cy="920.4" r="11.7" fill="url(#gC)"/>
<circle cx="1979.0" cy="950.2" r="11.7" fill="url(#gC)"/>
<circle cx="1962.0" cy="980.4" r="11.7" fill="url(#gC)"/>
<circle cx="1979.9" cy="1010.2" r="11.7" fill="url(#gC)"/>
<circle cx="1962.8" cy="1040.3" r="11.7" fill="url(#gC)"/>
<circle cx="1927.8" cy="1040.6" r="11.7" fill="url(#gC)"/>
<circle cx="1704.0" cy="841.7" r="7.7" fill="url(#gH)"/>
<circle cx="1765.7" cy="840.6" r="7.7" fill="url(#gH)"/>
<circle cx="1673.0" cy="894.7" r="7.7" fill="url(#gH)"/>
<circle cx="1673.0" cy="953.6" r="7.7" fill="url(#gH)"/>
<circle cx="1766.4" cy="1064.6" r="7.7" fill="url(#gH)"/>
<circle cx="1704.0" cy="1064.9" r="7.7" fill="url(#gH)"/>
<circle cx="1672.9" cy="1012.6" r="7.7" fill="url(#gH)"/>
<circle cx="1807.9" cy="839.8" r="7.7" fill="url(#gH)"/>
<circle cx="1869.6" cy="838.7" r="7.7" fill="url(#gH)"/>
<circle cx="1871.6" cy="1064.1" r="7.7" fill="url(#gH)"/>
<circle cx="1911.9" cy="837.9" r="7.7" fill="url(#gH)"/>
<circle cx="1973.6" cy="836.8" r="7.7" fill="url(#gH)"/>
<circle cx="2005.3" cy="889.8" r="7.7" fill="url(#gH)"/>
<circle cx="2006.2" cy="949.9" r="7.7" fill="url(#gH)"/>
<circle cx="2007.1" cy="1010.0" r="7.7" fill="url(#gH)"/>
<circle cx="1976.8" cy="1063.7" r="7.7" fill="url(#gH)"/>
<circle cx="1914.4" cy="1063.9" r="7.7" fill="url(#gH)"/>
<circle cx="1815.8" cy="1083.5" r="7.2" fill="url(#gH)"/>
<circle cx="1820.7" cy="1060.6" r="9.0" fill="url(#gO)"/>
<circle cx="1807.1" cy="1060.6" r="10.0" fill="url(#gO)"/>
<line x1="488.9" y1="1379.6" x2="507.5" y2="1407.8" stroke="#b4b4b4" stroke-width="6.9"/>
<line x1="486.9" y1="1380.9" x2="505.5" y2="1409.1" stroke="#404040" stroke-width="2.6"/>
<line x1="490.9" y1="1378.3" x2="509.5" y2="1406.5" stroke="#404040" stroke-width="2.6"/>
<line x1="403.0" y1="1412.8" x2="437.8" y2="1411.1" stroke="#b4b4b4" stroke-width="6.9"/>
<line x1="403.1" y1="1415.2" x2="438.0" y2="1413.5" stroke="#404040" stroke-width="2.6"/>
<line x1="402.9" y1="1410.4" x2="437.7" y2="1408.7" stroke="#404040" stroke-width="2.6"/>
<line x1="437.8" y1="1411.1" x2="454.2" y2="1381.2" stroke="#4a4a4a" stroke-width="3.6"/>
<line x1="452.2" y1="1323.0" x2="486.5" y2="1321.6" stroke="#4a4a4a" stroke-width="3.6"/>
<line x1="552.0" y1="1261.0" x2="585.9" y2="1259.7" stroke="#4a4a4a" stroke-width="3.6"/>
<line x1="504.9" y1="1349.8" x2="539.4" y2="1348.3" stroke="#4a4a4a" stroke-width="3.6"/>
<line x1="555.1" y1="1318.7" x2="589.4" y2="1317.2" stroke="#4a4a4a" stroke-width="3.6"/>
<line x1="401.5" y1="1354.4" x2="436.0" y2="1352.9" stroke="#4a4a4a" stroke-width="3.6"/>
<line x1="454.2" y1="1381.2" x2="488.9" y2="1379.6" stroke="#4a4a4a" stroke-width="3.6"/>
<line x1="436.0" y1="1352.9" x2="452.2" y2="1323.0" stroke="#4a4a4a" stroke-width="3.6"/>
<line x1="382.4" y1="1267.4" x2="400.1" y2="1296.0" stroke="#4a4a4a" stroke-width="3.6"/>
<line x1="592.9" y1="1374.8" x2="608.3" y2="1345.3" stroke="#4a4a4a" stroke-width="3.6"/>
<line x1="638.8" y1="1286.4" x2="657.9" y2="1314.4" stroke="#4a4a4a" stroke-width="3.6"/>
<line x1="499.8" y1="1233.9" x2="533.5" y2="1232.7" stroke="#4a4a4a" stroke-width="3.6"/>
<line x1="398.6" y1="1237.5" x2="432.3" y2="1236.3" stroke="#4a4a4a" stroke-width="3.6"/>
<line x1="536.5" y1="1290.5" x2="552.0" y2="1261.0" stroke="#4a4a4a" stroke-width="3.6"/>
<line x1="539.4" y1="1348.3" x2="558.2" y2="1376.4" stroke="#4a4a4a" stroke-width="3.6"/>
<line x1="484.1" y1="1263.5" x2="499.8" y2="1233.9" stroke="#b4b4b4" stroke-width="6.9"/>
<line x1="486.3" y1="1264.7" x2="501.9" y2="1235.0" stroke="#404040" stroke-width="2.6"/>
<line x1="482.0" y1="1262.4" x2="497.7" y2="1232.8" stroke="#404040" stroke-width="2.6"/>
<line x1="434.2" y1="1294.6" x2="452.2" y2="1323.0" stroke="#b4b4b4" stroke-width="6.9"/>
<line x1="432.1" y1="1295.9" x2="450.2" y2="1324.3" stroke="#404040" stroke-width="2.6"/>
<line x1="436.2" y1="1293.3" x2="454.3" y2="1321.7" stroke="#404040" stroke-width="2.6"/>
<line x1="502.4" y1="1291.9" x2="536.5" y2="1290.5" stroke="#4a4a4a" stroke-width="3.6"/>
<line x1="604.7" y1="1287.8" x2="638.8" y2="1286.4" stroke="#4a4a4a" stroke-width="3.6"/>
<line x1="383.7" y1="1325.9" x2="400.1" y2="1296.0" stroke="#b4b4b4" stroke-width="6.9"/>
<line x1="385.8" y1="1327.0" x2="402.2" y2="1297.1" stroke="#404040" stroke-width="2.6"/>
<line x1="381.6" y1="1324.7" x2="398.0" y2="1294.8" stroke="#404040" stroke-width="2.6"/>
<line x1="642.8" y1="1343.7" x2="662.1" y2="1371.6" stroke="#4a4a4a" stroke-width="3.6"/>
<line x1="450.2" y1="1264.8" x2="484.1" y2="1263.5" stroke="#4a4a4a" stroke-width="3.6"/>
<line x1="385.0" y1="1384.4" x2="401.5" y2="1354.4" stroke="#b4b4b4" stroke-width="6.9"/>
<line x1="387.1" y1="1385.6" x2="403.6" y2="1355.5" stroke="#404040" stroke-width="2.6"/>
<line x1="382.8" y1="1383.2" x2="399.4" y2="1353.2" stroke="#404040" stroke-width="2.6"/>
<line x1="436.0" y1="1352.9" x2="454.2" y2="1381.2" stroke="#b4b4b4" stroke-width="6.9"/>
<line x1="434.0" y1="1354.2" x2="452.2" y2="1382.5" stroke="#404040" stroke-width="2.6"/>
<line x1="438.0" y1="1351.6" x2="456.3" y2="1379.9" stroke="#404040" stroke-width="2.6"/>
<line x1="589.4" y1="1317.2" x2="604.7" y2="1287.8" stroke="#4a4a4a" stroke-width="3.6"/>
<line x1="592.9" y1="1374.8" x2="612.0" y2="1402.7" stroke="#b4b4b4" stroke-width="6.9"/>
<line x1="590.9" y1="1376.2" x2="610.0" y2="1404.1" stroke="#404040" stroke-width="2.6"/>
<line x1="594.8" y1="1373.4" x2="614.0" y2="1401.4" stroke="#404040" stroke-width="2.6"/>
<line x1="400.1" y1="1296.0" x2="434.2" y2="1294.6" stroke="#4a4a4a" stroke-width="3.6"/>
<line x1="486.5" y1="1321.6" x2="504.9" y2="1349.8" stroke="#4a4a4a" stroke-width="3.6"/>
<line x1="536.5" y1="1290.5" x2="555.1" y2="1318.7" stroke="#b4b4b4" stroke-width="6.9"/>
<line x1="534.5" y1="1291.8" x2="553.1" y2="1320.0" stroke="#404040" stroke-width="2.6"/>
<line x1="538.5" y1="1289.2" x2="557.1" y2="1317.4" stroke="#404040" stroke-width="2.6"/>
<line x1="533.5" y1="1232.7" x2="552.0" y2="1261.0" stroke="#b4b4b4" stroke-width="6.9"/>
<line x1="531.5" y1="1234.0" x2="550.0" y2="1262.3" stroke="#404040" stroke-width="2.6"/>
<line x1="535.6" y1="1231.4" x2="554.0" y2="1259.7" stroke="#404040" stroke-width="2.6"/>
<line x1="646.8" y1="1401.1" x2="662.1" y2="1371.6" stroke="#b4b4b4" stroke-width="6.9"/>
<line x1="649.0" y1="1402.2" x2="664.3" y2="1372.7" stroke="#404040" stroke-width="2.6"/>
<line x1="644.7" y1="1400.0" x2="660.0" y2="1370.5" stroke="#404040" stroke-width="2.6"/>
<line x1="585.9" y1="1259.7" x2="601.0" y2="1230.3" stroke="#4a4a4a" stroke-width="3.6"/>
<line x1="385.0" y1="1384.4" x2="403.0" y2="1412.8" stroke="#4a4a4a" stroke-width="3.6"/>
<line x1="432.3" y1="1236.3" x2="450.2" y2="1264.8" stroke="#b4b4b4" stroke-width="6.9"/>
<line x1="430.3" y1="1237.6" x2="448.2" y2="1266.1" stroke="#404040" stroke-width="2.6"/>
<line x1="434.4" y1="1235.0" x2="452.3" y2="1263.5" stroke="#404040" stroke-width="2.6"/>
<line x1="484.1" y1="1263.5" x2="502.4" y2="1291.9" stroke="#4a4a4a" stroke-width="3.6"/>
<line x1="488.9" y1="1379.6" x2="504.9" y2="1349.8" stroke="#4a4a4a" stroke-width="3.6"/>
<line x1="539.4" y1="1348.3" x2="555.1" y2="1318.7" stroke="#4a4a4a" stroke-width="3.6"/>
<line x1="612.0" y1="1402.7" x2="646.8" y2="1401.1" stroke="#4a4a4a" stroke-width="3.6"/>
<line x1="608.3" y1="1345.3" x2="642.8" y2="1343.7" stroke="#4a4a4a" stroke-width="3.6"/>
<line x1="434.2" y1="1294.6" x2="450.2" y2="1264.8" stroke="#4a4a4a" stroke-width="3.6"/>
<line x1="634.7" y1="1229.1" x2="653.7" y2="1257.1" stroke="#4a4a4a" stroke-width="3.6"/>
<line x1="638.8" y1="1286.4" x2="653.7" y2="1257.1" stroke="#b4b4b4" stroke-width="6.9"/>
<line x1="640.9" y1="1287.5" x2="655.9" y2="1258.2" stroke="#404040" stroke-width="2.6"/>
<line x1="636.6" y1="1285.3" x2="651.6" y2="1256.0" stroke="#404040" stroke-width="2.6"/>
<line x1="558.2" y1="1376.4" x2="592.9" y2="1374.8" stroke="#4a4a4a" stroke-width="3.6"/>
<line x1="382.4" y1="1267.4" x2="398.6" y2="1237.5" stroke="#b4b4b4" stroke-width="6.9"/>
<line x1="384.5" y1="1268.5" x2="400.7" y2="1238.7" stroke="#404040" stroke-width="2.6"/>
<line x1="380.3" y1="1266.2" x2="396.5" y2="1236.4" stroke="#404040" stroke-width="2.6"/>
<line x1="585.9" y1="1259.7" x2="604.7" y2="1287.8" stroke="#b4b4b4" stroke-width="6.9"/>
<line x1="583.9" y1="1261.0" x2="602.7" y2="1289.1" stroke="#404040" stroke-width="2.6"/>
<line x1="587.9" y1="1258.3" x2="606.7" y2="1286.4" stroke="#404040" stroke-width="2.6"/>
<line x1="601.0" y1="1230.3" x2="634.7" y2="1229.1" stroke="#b4b4b4" stroke-width="6.9"/>
<line x1="601.1" y1="1232.7" x2="634.8" y2="1231.5" stroke="#404040" stroke-width="2.6"/>
<line x1="600.9" y1="1227.9" x2="634.7" y2="1226.7" stroke="#404040" stroke-width="2.6"/>
<line x1="642.8" y1="1343.7" x2="657.9" y2="1314.4" stroke="#b4b4b4" stroke-width="6.9"/>
<line x1="644.9" y1="1344.8" x2="660.1" y2="1315.5" stroke="#404040" stroke-width="2.6"/>
<line x1="640.7" y1="1342.6" x2="655.8" y2="1313.3" stroke="#404040" stroke-width="2.6"/>
<line x1="507.5" y1="1407.8" x2="542.3" y2="1406.1" stroke="#4a4a4a" stroke-width="3.6"/>
<line x1="542.3" y1="1406.1" x2="558.2" y2="1376.4" stroke="#b4b4b4" stroke-width="6.9"/>
<line x1="544.5" y1="1407.2" x2="560.3" y2="1377.5" stroke="#404040" stroke-width="2.6"/>
<line x1="540.2" y1="1405.0" x2="556.1" y2="1375.3" stroke="#404040" stroke-width="2.6"/>
<line x1="486.5" y1="1321.6" x2="502.4" y2="1291.9" stroke="#b4b4b4" stroke-width="6.9"/>
<line x1="488.6" y1="1322.7" x2="504.5" y2="1293.0" stroke="#404040" stroke-width="2.6"/>
<line x1="484.4" y1="1320.4" x2="500.3" y2="1290.7" stroke="#404040" stroke-width="2.6"/>
<line x1="589.4" y1="1317.2" x2="608.3" y2="1345.3" stroke="#b4b4b4" stroke-width="6.9"/>
<line x1="587.4" y1="1318.6" x2="606.4" y2="1346.6" stroke="#404040" stroke-width="2.6"/>
<line x1="591.4" y1="1315.9" x2="610.3" y2="1343.9" stroke="#404040" stroke-width="2.6"/>
<line x1="383.7" y1="1325.9" x2="401.5" y2="1354.4" stroke="#4a4a4a" stroke-width="3.6"/>
<line x1="398.6" y1="1237.5" x2="384.9" y2="1215.2" stroke="#555" stroke-width="3.2"/>
<line x1="432.3" y1="1236.3" x2="444.7" y2="1213.2" stroke="#555" stroke-width="3.2"/>
<line x1="382.4" y1="1267.4" x2="355.9" y2="1268.4" stroke="#555" stroke-width="3.2"/>
<line x1="383.7" y1="1325.9" x2="356.9" y2="1327.0" stroke="#555" stroke-width="3.2"/>
<line x1="437.8" y1="1411.1" x2="452.2" y2="1433.2" stroke="#555" stroke-width="3.2"/>
<line x1="403.0" y1="1412.8" x2="389.9" y2="1436.3" stroke="#555" stroke-width="3.2"/>
<line x1="385.0" y1="1384.4" x2="357.9" y2="1385.6" stroke="#555" stroke-width="3.2"/>
<line x1="499.8" y1="1233.9" x2="485.7" y2="1211.8" stroke="#555" stroke-width="3.2"/>
<line x1="533.5" y1="1232.7" x2="545.5" y2="1209.7" stroke="#555" stroke-width="3.2"/>
<line x1="542.3" y1="1406.1" x2="557.1" y2="1428.0" stroke="#555" stroke-width="3.2"/>
<line x1="507.5" y1="1407.8" x2="494.9" y2="1431.1" stroke="#555" stroke-width="3.2"/>
<line x1="601.0" y1="1230.3" x2="586.5" y2="1208.3" stroke="#555" stroke-width="3.2"/>
<line x1="634.7" y1="1229.1" x2="646.3" y2="1206.3" stroke="#555" stroke-width="3.2"/>
<line x1="653.7" y1="1257.1" x2="680.2" y2="1256.1" stroke="#555" stroke-width="3.2"/>
<line x1="657.9" y1="1314.4" x2="684.7" y2="1313.2" stroke="#555" stroke-width="3.2"/>
<line x1="662.1" y1="1371.6" x2="689.2" y2="1370.4" stroke="#555" stroke-width="3.2"/>
<line x1="646.8" y1="1401.1" x2="662.1" y2="1422.7" stroke="#555" stroke-width="3.2"/>
<line x1="612.0" y1="1402.7" x2="599.8" y2="1425.8" stroke="#555" stroke-width="3.2"/>
<line x1="497.2" y1="1345.3" x2="498.1" y2="1356.3" stroke="#e01818" stroke-width="3.2"/>
<line x1="498.1" y1="1356.3" x2="499.1" y2="1367.4" stroke="#505050" stroke-width="3.2"/>
<circle cx="398.6" cy="1237.5" r="11.5" fill="url(#gC)"/>
<circle cx="432.3" cy="1236.3" r="11.5" fill="url(#gC)"/>
<circle cx="450.2" cy="1264.8" r="11.5" fill="url(#gC)"/>
<circle cx="434.2" cy="1294.6" r="11.5" fill="url(#gC)"/>
<circle cx="400.1" cy="1296.0" r="11.5" fill="url(#gC)"/>
<circle cx="382.4" cy="1267.4" r="11.5" fill="url(#gC)"/>
<circle cx="452.2" cy="1323.0" r="11.5" fill="url(#gC)"/>
<circle cx="436.0" cy="1352.9" r="11.5" fill="url(#gC)"/>
<circle cx="401.5" cy="1354.4" r="11.5" fill="url(#gC)"/>
<circle cx="383.7" cy="1325.9" r="11.5" fill="url(#gC)"/>
<circle cx="454.2" cy="1381.2" r="11.5" fill="url(#gC)"/>
<circle cx="437.8" cy="1411.1" r="11.5" fill="url(#gC)"/>
<circle cx="403.0" cy="1412.8" r="11.5" fill="url(#gC)"/>
<circle cx="385.0" cy="1384.4" r="11.5" fill="url(#gC)"/>
<circle cx="484.1" cy="1263.5" r="11.5" fill="url(#gC)"/>
<circle cx="502.4" cy="1291.9" r="11.5" fill="url(#gC)"/>
<circle cx="486.5" cy="1321.6" r="11.5" fill="url(#gC)"/>
<circle cx="504.9" cy="1349.8" r="11.5" fill="url(#gC)"/>
<circle cx="488.9" cy="1379.6" r="11.5" fill="url(#gC)"/>
<circle cx="499.8" cy="1233.9" r="11.5" fill="url(#gC)"/>
<circle cx="533.5" cy="1232.7" r="11.5" fill="url(#gC)"/>
<circle cx="552.0" cy="1261.0" r="11.5" fill="url(#gC)"/>
<circle cx="536.5" cy="1290.5" r="11.5" fill="url(#gC)"/>
<circle cx="555.1" cy="1318.7" r="11.5" fill="url(#gC)"/>
<circle cx="539.4" cy="1348.3" r="11.5" fill="url(#gC)"/>
<circle cx="558.2" cy="1376.4" r="11.5" fill="url(#gC)"/>
<circle cx="542.3" cy="1406.1" r="11.5" fill="url(#gC)"/>
<circle cx="507.5" cy="1407.8" r="11.5" fill="url(#gC)"/>
<circle cx="585.9" cy="1259.7" r="11.5" fill="url(#gC)"/>
<circle cx="604.7" cy="1287.8" r="11.5" fill="url(#gC)"/>
<circle cx="589.4" cy="1317.2" r="11.5" fill="url(#gC)"/>
<circle cx="608.3" cy="1345.3" r="11.5" fill="url(#gC)"/>
<circle cx="592.9" cy="1374.8" r="11.5" fill="url(#gC)"/>
<circle cx="601.0" cy="1230.3" r="11.5" fill="url(#gC)"/>
<circle cx="634.7" cy="1229.1" r="11.5" fill="url(#gC)"/>
<circle cx="653.7" cy="1257.1" r="11.5" fill="url(#gC)"/>
<circle cx="638.8" cy="1286.4" r="11.5" fill="url(#gC)"/>
<circle cx="657.9" cy="1314.4" r="11.5" fill="url(#gC)"/>
<circle cx="642.8" cy="1343.7" r="11.5" fill="url(#gC)"/>
<circle cx="662.1" cy="1371.6" r="11.5" fill="url(#gC)"/>
<circle cx="646.8" cy="1401.1" r="11.5" fill="url(#gC)"/>
<circle cx="612.0" cy="1402.7" r="11.5" fill="url(#gC)"/>
<circle cx="384.9" cy="1215.2" r="7.6" fill="url(#gH)"/>
<circle cx="444.7" cy="1213.2" r="7.6" fill="url(#gH)"/>
<circle cx="355.9" cy="1268.4" r="7.6" fill="url(#gH)"/>
<circle cx="356.9" cy="1327.0" r="7.6" fill="url(#gH)"/>
<circle cx="452.2" cy="1433.2" r="7.6" fill="url(#gH)"/>
<circle cx="389.9" cy="1436.3" r="7.6" fill="url(#gH)"/>
<circle cx="357.9" cy="1385.6" r="7.6" fill="url(#gH)"/>
<circle cx="485.7" cy="1211.8" r="7.6" fill="url(#gH)"/>
<circle cx="545.5" cy="1209.7" r="7.6" fill="url(#gH)"/>
<circle cx="557.1" cy="1428.0" r="7.6" fill="url(#gH)"/>
<circle cx="494.9" cy="1431.1" r="7.6" fill="url(#gH)"/>
<circle cx="586.5" cy="1208.3" r="7.6" fill="url(#gH)"/>
<circle cx="646.3" cy="1206.3" r="7.6" fill="url(#gH)"/>
<circle cx="680.2" cy="1256.1" r="7.6" fill="url(#gH)"/>
<circle cx="684.7" cy="1313.2" r="7.6" fill="url(#gH)"/>
<circle cx="689.2" cy="1370.4" r="7.6" fill="url(#gH)"/>
<circle cx="662.1" cy="1422.7" r="7.6" fill="url(#gH)"/>
<circle cx="599.8" cy="1425.8" r="7.6" fill="url(#gH)"/>
<circle cx="497.2" cy="1345.3" r="10.2" fill="url(#gO)"/>
<circle cx="499.1" cy="1367.4" r="7.2" fill="url(#gH)"/>
<circle cx="551.0" cy="1341.4" r="7.2" fill="url(#gH)"/>
<line x1="909.3" y1="1371.4" x2="926.6" y2="1400.5" stroke="#b4b4b4" stroke-width="6.9"/>
<line x1="907.2" y1="1372.7" x2="924.6" y2="1401.7" stroke="#404040" stroke-width="2.6"/>
<line x1="911.4" y1="1370.2" x2="928.7" y2="1399.3" stroke="#404040" stroke-width="2.6"/>
<line x1="822.6" y1="1400.7" x2="857.3" y2="1400.7" stroke="#4a4a4a" stroke-width="3.6"/>
<line x1="857.3" y1="1400.7" x2="874.8" y2="1371.6" stroke="#b4b4b4" stroke-width="6.9"/>
<line x1="859.3" y1="1401.9" x2="876.8" y2="1372.8" stroke="#404040" stroke-width="2.6"/>
<line x1="855.2" y1="1399.4" x2="872.7" y2="1370.3" stroke="#404040" stroke-width="2.6"/>
<line x1="875.0" y1="1313.5" x2="909.3" y2="1313.2" stroke="#4a4a4a" stroke-width="3.6"/>
<line x1="977.3" y1="1254.4" x2="1011.4" y2="1254.1" stroke="#4a4a4a" stroke-width="3.6"/>
<line x1="926.5" y1="1342.3" x2="960.9" y2="1342.1" stroke="#4a4a4a" stroke-width="3.6"/>
<line x1="977.9" y1="1312.8" x2="1012.2" y2="1312.6" stroke="#4a4a4a" stroke-width="3.6"/>
<line x1="823.2" y1="1342.8" x2="857.7" y2="1342.6" stroke="#4a4a4a" stroke-width="3.6"/>
<line x1="874.8" y1="1371.6" x2="909.3" y2="1371.4" stroke="#4a4a4a" stroke-width="3.6"/>
<line x1="857.7" y1="1342.6" x2="875.0" y2="1313.5" stroke="#b4b4b4" stroke-width="6.9"/>
<line x1="859.7" y1="1343.8" x2="877.1" y2="1314.7" stroke="#404040" stroke-width="2.6"/>
<line x1="855.6" y1="1341.4" x2="872.9" y2="1312.2" stroke="#404040" stroke-width="2.6"/>
<line x1="807.2" y1="1256.0" x2="823.9" y2="1284.8" stroke="#b4b4b4" stroke-width="6.9"/>
<line x1="805.1" y1="1257.2" x2="821.8" y2="1286.0" stroke="#404040" stroke-width="2.6"/>
<line x1="809.2" y1="1254.8" x2="825.9" y2="1283.6" stroke="#404040" stroke-width="2.6"/>
<line x1="1013.0" y1="1371.0" x2="1029.8" y2="1341.7" stroke="#4a4a4a" stroke-width="3.6"/>
<line x1="1063.0" y1="1282.9" x2="1080.7" y2="1312.1" stroke="#4a4a4a" stroke-width="3.6"/>
<line x1="926.2" y1="1225.8" x2="960.1" y2="1225.4" stroke="#4a4a4a" stroke-width="3.6"/>
<line x1="824.5" y1="1226.9" x2="858.4" y2="1226.5" stroke="#b4b4b4" stroke-width="6.9"/>
<line x1="824.5" y1="1229.3" x2="858.4" y2="1228.9" stroke="#404040" stroke-width="2.6"/>
<line x1="824.5" y1="1224.5" x2="858.4" y2="1224.1" stroke="#404040" stroke-width="2.6"/>
<line x1="960.5" y1="1283.8" x2="977.3" y2="1254.4" stroke="#4a4a4a" stroke-width="3.6"/>
<line x1="960.9" y1="1342.1" x2="978.4" y2="1371.2" stroke="#4a4a4a" stroke-width="3.6"/>
<line x1="909.3" y1="1255.1" x2="926.2" y2="1225.8" stroke="#b4b4b4" stroke-width="6.9"/>
<line x1="911.3" y1="1256.3" x2="928.3" y2="1227.0" stroke="#404040" stroke-width="2.6"/>
<line x1="907.2" y1="1253.9" x2="924.1" y2="1224.6" stroke="#404040" stroke-width="2.6"/>
<line x1="858.0" y1="1284.6" x2="875.0" y2="1313.5" stroke="#4a4a4a" stroke-width="3.6"/>
<line x1="926.4" y1="1284.0" x2="960.5" y2="1283.8" stroke="#4a4a4a" stroke-width="3.6"/>
<line x1="1028.8" y1="1283.2" x2="1063.0" y2="1282.9" stroke="#4a4a4a" stroke-width="3.6"/>
<line x1="806.4" y1="1313.9" x2="823.9" y2="1284.8" stroke="#4a4a4a" stroke-width="3.6"/>
<line x1="1064.2" y1="1341.5" x2="1082.1" y2="1370.8" stroke="#4a4a4a" stroke-width="3.6"/>
<line x1="875.2" y1="1255.4" x2="909.3" y2="1255.1" stroke="#4a4a4a" stroke-width="3.6"/>
<line x1="805.7" y1="1371.8" x2="823.2" y2="1342.8" stroke="#4a4a4a" stroke-width="3.6"/>
<line x1="857.7" y1="1342.6" x2="874.8" y2="1371.6" stroke="#4a4a4a" stroke-width="3.6"/>
<line x1="1012.2" y1="1312.6" x2="1028.8" y2="1283.2" stroke="#4a4a4a" stroke-width="3.6"/>
<line x1="1013.0" y1="1371.0" x2="1030.7" y2="1400.2" stroke="#b4b4b4" stroke-width="6.9"/>
<line x1="1010.9" y1="1372.3" x2="1028.6" y2="1401.5" stroke="#404040" stroke-width="2.6"/>
<line x1="1015.0" y1="1369.8" x2="1032.7" y2="1399.0" stroke="#404040" stroke-width="2.6"/>
<line x1="823.9" y1="1284.8" x2="858.0" y2="1284.6" stroke="#4a4a4a" stroke-width="3.6"/>
<line x1="909.3" y1="1313.2" x2="926.5" y2="1342.3" stroke="#4a4a4a" stroke-width="3.6"/>
<line x1="960.5" y1="1283.8" x2="977.9" y2="1312.8" stroke="#b4b4b4" stroke-width="6.9"/>
<line x1="958.5" y1="1285.0" x2="975.8" y2="1314.0" stroke="#404040" stroke-width="2.6"/>
<line x1="962.6" y1="1282.5" x2="979.9" y2="1311.6" stroke="#404040" stroke-width="2.6"/>
<line x1="960.1" y1="1225.4" x2="977.3" y2="1254.4" stroke="#b4b4b4" stroke-width="6.9"/>
<line x1="958.1" y1="1226.7" x2="975.3" y2="1255.7" stroke="#404040" stroke-width="2.6"/>
<line x1="962.2" y1="1224.2" x2="979.4" y2="1253.2" stroke="#404040" stroke-width="2.6"/>
<line x1="1065.4" y1="1400.1" x2="1082.1" y2="1370.8" stroke="#b4b4b4" stroke-width="6.9"/>
<line x1="1067.5" y1="1401.3" x2="1084.1" y2="1372.0" stroke="#404040" stroke-width="2.6"/>
<line x1="1063.3" y1="1398.9" x2="1080.0" y2="1369.6" stroke="#404040" stroke-width="2.6"/>
<line x1="1011.4" y1="1254.1" x2="1027.9" y2="1224.7" stroke="#4a4a4a" stroke-width="3.6"/>
<line x1="805.7" y1="1371.8" x2="822.6" y2="1400.7" stroke="#b4b4b4" stroke-width="6.9"/>
<line x1="803.6" y1="1373.0" x2="820.5" y2="1402.0" stroke="#404040" stroke-width="2.6"/>
<line x1="807.7" y1="1370.6" x2="824.7" y2="1399.5" stroke="#404040" stroke-width="2.6"/>
<line x1="858.4" y1="1226.5" x2="875.2" y2="1255.4" stroke="#4a4a4a" stroke-width="3.6"/>
<line x1="909.3" y1="1255.1" x2="926.4" y2="1284.0" stroke="#4a4a4a" stroke-width="3.6"/>
<line x1="909.3" y1="1371.4" x2="926.5" y2="1342.3" stroke="#4a4a4a" stroke-width="3.6"/>
<line x1="960.9" y1="1342.1" x2="977.9" y2="1312.8" stroke="#4a4a4a" stroke-width="3.6"/>
<line x1="1030.7" y1="1400.2" x2="1065.4" y2="1400.1" stroke="#4a4a4a" stroke-width="3.6"/>
<line x1="1029.8" y1="1341.7" x2="1064.2" y2="1341.5" stroke="#4a4a4a" stroke-width="3.6"/>
<line x1="858.0" y1="1284.6" x2="875.2" y2="1255.4" stroke="#b4b4b4" stroke-width="6.9"/>
<line x1="860.1" y1="1285.8" x2="877.3" y2="1256.6" stroke="#404040" stroke-width="2.6"/>
<line x1="856.0" y1="1283.3" x2="873.2" y2="1254.2" stroke="#404040" stroke-width="2.6"/>
<line x1="1061.8" y1="1224.3" x2="1079.4" y2="1253.5" stroke="#4a4a4a" stroke-width="3.6"/>
<line x1="1063.0" y1="1282.9" x2="1079.4" y2="1253.5" stroke="#b4b4b4" stroke-width="6.9"/>
<line x1="1065.1" y1="1284.1" x2="1081.5" y2="1254.7" stroke="#404040" stroke-width="2.6"/>
<line x1="1060.9" y1="1281.8" x2="1077.3" y2="1252.3" stroke="#404040" stroke-width="2.6"/>
<line x1="978.4" y1="1371.2" x2="1013.0" y2="1371.0" stroke="#4a4a4a" stroke-width="3.6"/>
<line x1="807.2" y1="1256.0" x2="824.5" y2="1226.9" stroke="#4a4a4a" stroke-width="3.6"/>
<line x1="1011.4" y1="1254.1" x2="1028.8" y2="1283.2" stroke="#b4b4b4" stroke-width="6.9"/>
<line x1="1009.3" y1="1255.4" x2="1026.8" y2="1284.4" stroke="#404040" stroke-width="2.6"/>
<line x1="1013.4" y1="1252.9" x2="1030.9" y2="1282.0" stroke="#404040" stroke-width="2.6"/>
<line x1="1027.9" y1="1224.7" x2="1061.8" y2="1224.3" stroke="#b4b4b4" stroke-width="6.9"/>
<line x1="1027.9" y1="1227.1" x2="1061.9" y2="1226.7" stroke="#404040" stroke-width="2.6"/>
<line x1="1027.9" y1="1222.3" x2="1061.8" y2="1221.9" stroke="#404040" stroke-width="2.6"/>
<line x1="1064.2" y1="1341.5" x2="1080.7" y2="1312.1" stroke="#b4b4b4" stroke-width="6.9"/>
<line x1="1066.3" y1="1342.7" x2="1082.8" y2="1313.3" stroke="#404040" stroke-width="2.6"/>
<line x1="1062.1" y1="1340.4" x2="1078.6" y2="1310.9" stroke="#404040" stroke-width="2.6"/>
<line x1="926.6" y1="1400.5" x2="961.3" y2="1400.4" stroke="#4a4a4a" stroke-width="3.6"/>
<line x1="961.3" y1="1400.4" x2="978.4" y2="1371.2" stroke="#b4b4b4" stroke-width="6.9"/>
<line x1="963.4" y1="1401.6" x2="980.5" y2="1372.4" stroke="#404040" stroke-width="2.6"/>
<line x1="959.3" y1="1399.2" x2="976.3" y2="1370.0" stroke="#404040" stroke-width="2.6"/>
<line x1="909.3" y1="1313.2" x2="926.4" y2="1284.0" stroke="#b4b4b4" stroke-width="6.9"/>
<line x1="911.4" y1="1314.5" x2="928.4" y2="1285.2" stroke="#404040" stroke-width="2.6"/>
<line x1="907.2" y1="1312.0" x2="924.3" y2="1282.8" stroke="#404040" stroke-width="2.6"/>
<line x1="1012.2" y1="1312.6" x2="1029.8" y2="1341.7" stroke="#b4b4b4" stroke-width="6.9"/>
<line x1="1010.1" y1="1313.8" x2="1027.7" y2="1343.0" stroke="#404040" stroke-width="2.6"/>
<line x1="1014.2" y1="1311.3" x2="1031.8" y2="1340.5" stroke="#404040" stroke-width="2.6"/>
<line x1="806.4" y1="1313.9" x2="823.2" y2="1342.8" stroke="#b4b4b4" stroke-width="6.9"/>
<line x1="804.3" y1="1315.1" x2="821.2" y2="1344.0" stroke="#404040" stroke-width="2.6"/>
<line x1="808.5" y1="1312.7" x2="825.3" y2="1341.6" stroke="#404040" stroke-width="2.6"/>
<line x1="824.5" y1="1226.9" x2="811.6" y2="1204.4" stroke="#555" stroke-width="3.2"/>
<line x1="858.4" y1="1226.5" x2="871.7" y2="1203.7" stroke="#555" stroke-width="3.2"/>
<line x1="807.2" y1="1256.0" x2="780.6" y2="1256.3" stroke="#555" stroke-width="3.2"/>
<line x1="806.4" y1="1313.9" x2="779.7" y2="1314.1" stroke="#555" stroke-width="3.2"/>
<line x1="857.3" y1="1400.7" x2="870.7" y2="1423.3" stroke="#555" stroke-width="3.2"/>
<line x1="822.6" y1="1400.7" x2="808.8" y2="1423.4" stroke="#555" stroke-width="3.2"/>
<line x1="805.7" y1="1371.8" x2="778.7" y2="1371.9" stroke="#555" stroke-width="3.2"/>
<line x1="926.2" y1="1225.8" x2="913.0" y2="1203.2" stroke="#555" stroke-width="3.2"/>
<line x1="960.1" y1="1225.4" x2="973.1" y2="1202.5" stroke="#555" stroke-width="3.2"/>
<line x1="961.3" y1="1400.4" x2="975.0" y2="1423.1" stroke="#555" stroke-width="3.2"/>
<line x1="926.6" y1="1400.5" x2="913.1" y2="1423.2" stroke="#555" stroke-width="3.2"/>
<line x1="1027.9" y1="1224.7" x2="1014.4" y2="1202.0" stroke="#555" stroke-width="3.2"/>
<line x1="1061.8" y1="1224.3" x2="1074.6" y2="1201.3" stroke="#555" stroke-width="3.2"/>
<line x1="1079.4" y1="1253.5" x2="1106.0" y2="1253.2" stroke="#555" stroke-width="3.2"/>
<line x1="1080.7" y1="1312.1" x2="1107.5" y2="1311.9" stroke="#555" stroke-width="3.2"/>
<line x1="1082.1" y1="1370.8" x2="1109.0" y2="1370.7" stroke="#555" stroke-width="3.2"/>
<line x1="1065.4" y1="1400.1" x2="1079.4" y2="1423.0" stroke="#555" stroke-width="3.2"/>
<line x1="1030.7" y1="1400.2" x2="1017.5" y2="1423.1" stroke="#555" stroke-width="3.2"/>
<line x1="818.9" y1="1292.5" x2="827.4" y2="1326.5" stroke="#4a4a4a" stroke-width="3.2"/>
<line x1="827.4" y1="1326.5" x2="851.0" y2="1331.8" stroke="#4a4a4a" stroke-width="3.2"/>
<line x1="851.0" y1="1331.8" x2="874.7" y2="1337.1" stroke="#8080c0" stroke-width="3.2"/>
<line x1="874.7" y1="1337.1" x2="896.8" y2="1340.3" stroke="#8080c0" stroke-width="3.2"/>
<line x1="896.8" y1="1340.3" x2="918.8" y2="1343.5" stroke="#e01818" stroke-width="3.2"/>
<line x1="818.9" y1="1292.5" x2="789.0" y2="1287.2" stroke="#4a4a4a" stroke-width="3.2"/>
<line x1="827.4" y1="1326.5" x2="810.9" y2="1346.7" stroke="#4a4a4a" stroke-width="3.2"/>
<circle cx="824.5" cy="1226.9" r="11.5" fill="url(#gC)"/>
<circle cx="858.4" cy="1226.5" r="11.5" fill="url(#gC)"/>
<circle cx="875.2" cy="1255.4" r="11.5" fill="url(#gC)"/>
<circle cx="858.0" cy="1284.6" r="11.5" fill="url(#gC)"/>
<circle cx="823.9" cy="1284.8" r="11.5" fill="url(#gC)"/>
<circle cx="807.2" cy="1256.0" r="11.5" fill="url(#gC)"/>
<circle cx="875.0" cy="1313.5" r="11.5" fill="url(#gC)"/>
<circle cx="857.7" cy="1342.6" r="11.5" fill="url(#gC)"/>
<circle cx="823.2" cy="1342.8" r="11.5" fill="url(#gC)"/>
<circle cx="806.4" cy="1313.9" r="11.5" fill="url(#gC)"/>
<circle cx="874.8" cy="1371.6" r="11.5" fill="url(#gC)"/>
<circle cx="857.3" cy="1400.7" r="11.5" fill="url(#gC)"/>
<circle cx="822.6" cy="1400.7" r="11.5" fill="url(#gC)"/>
<circle cx="805.7" cy="1371.8" r="11.5" fill="url(#gC)"/>
<circle cx="909.3" cy="1255.1" r="11.5" fill="url(#gC)"/>
<circle cx="926.4" cy="1284.0" r="11.5" fill="url(#gC)"/>
<circle cx="909.3" cy="1313.2" r="11.5" fill="url(#gC)"/>
<circle cx="926.5" cy="1342.3" r="11.5" fill="url(#gC)"/>
<circle cx="909.3" cy="1371.4" r="11.5" fill="url(#gC)"/>
<circle cx="926.2" cy="1225.8" r="11.5" fill="url(#gC)"/>
<circle cx="960.1" cy="1225.4" r="11.5" fill="url(#gC)"/>
<circle cx="977.3" cy="1254.4" r="11.5" fill="url(#gC)"/>
<circle cx="960.5" cy="1283.8" r="11.5" fill="url(#gC)"/>
<circle cx="977.9" cy="1312.8" r="11.5" fill="url(#gC)"/>
<circle cx="960.9" cy="1342.1" r="11.5" fill="url(#gC)"/>
<circle cx="978.4" cy="1371.2" r="11.5" fill="url(#gC)"/>
<circle cx="961.3" cy="1400.4" r="11.5" fill="url(#gC)"/>
<circle cx="926.6" cy="1400.5" r="11.5" fill="url(#gC)"/>
<circle cx="1011.4" cy="1254.1" r="11.5" fill="url(#gC)"/>
<circle cx="1028.8" cy="1283.2" r="11.5" fill="url(#gC)"/>
<circle cx="1012.2" cy="1312.6" r="11.5" fill="url(#gC)"/>
<circle cx="1029.8" cy="1341.7" r="11.5" fill="url(#gC)"/>
<circle cx="1013.0" cy="1371.0" r="11.5" fill="url(#gC)"/>
<circle cx="1027.9" cy="1224.7" r="11.5" fill="url(#gC)"/>
<circle cx="1061.8" cy="1224.3" r="11.5" fill="url(#gC)"/>
<circle cx="1079.4" cy="1253.5" r="11.5" fill="url(#gC)"/>
<circle cx="1063.0" cy="1282.9" r="11.5" fill="url(#gC)"/>
<circle cx="1080.7" cy="1312.1" r="11.5" fill="url(#gC)"/>
<circle cx="1064.2" cy="1341.5" r="11.5" fill="url(#gC)"/>
<circle cx="1082.1" cy="1370.8" r="11.5" fill="url(#gC)"/>
<circle cx="1065.4" cy="1400.1" r="11.5" fill="url(#gC)"/>
<circle cx="1030.7" cy="1400.2" r="11.5" fill="url(#gC)"/>
<circle cx="811.6" cy="1204.4" r="7.6" fill="url(#gH)"/>
<circle cx="871.7" cy="1203.7" r="7.6" fill="url(#gH)"/>
<circle cx="780.6" cy="1256.3" r="7.6" fill="url(#gH)"/>
<circle cx="779.7" cy="1314.1" r="7.6" fill="url(#gH)"/>
<circle cx="870.7" cy="1423.3" r="7.6" fill="url(#gH)"/>
<circle cx="808.8" cy="1423.4" r="7.6" fill="url(#gH)"/>
<circle cx="778.7" cy="1371.9" r="7.6" fill="url(#gH)"/>
<circle cx="913.0" cy="1203.2" r="7.6" fill="url(#gH)"/>
<circle cx="973.1" cy="1202.5" r="7.6" fill="url(#gH)"/>
<circle cx="975.0" cy="1423.1" r="7.6" fill="url(#gH)"/>
<circle cx="913.1" cy="1423.2" r="7.6" fill="url(#gH)"/>
<circle cx="1014.4" cy="1202.0" r="7.6" fill="url(#gH)"/>
<circle cx="1074.6" cy="1201.3" r="7.6" fill="url(#gH)"/>
<circle cx="1106.0" cy="1253.2" r="7.6" fill="url(#gH)"/>
<circle cx="1107.5" cy="1311.9" r="7.6" fill="url(#gH)"/>
<circle cx="1109.0" cy="1370.7" r="7.6" fill="url(#gH)"/>
<circle cx="1079.4" cy="1423.0" r="7.6" fill="url(#gH)"/>
<circle cx="1017.5" cy="1423.1" r="7.6" fill="url(#gH)"/>
<circle cx="789.0" cy="1287.2" r="7.4" fill="url(#gH)"/>
<circle cx="818.9" cy="1292.5" r="13.5" fill="url(#gC)"/>
<circle cx="833.8" cy="1271.3" r="7.6" fill="url(#gH)"/>
<circle cx="810.9" cy="1346.7" r="7.4" fill="url(#gH)"/>
<circle cx="827.4" cy="1326.5" r="12.0" fill="url(#gC)"/>
<circle cx="829.0" cy="1337.1" r="7.4" fill="url(#gH)"/>
<circle cx="874.7" cy="1337.1" r="13.3" fill="url(#gN)"/>
<circle cx="918.8" cy="1343.5" r="10.0" fill="url(#gO)"/>
<circle cx="971.4" cy="1342.5" r="7.2" fill="url(#gH)"/>
<line x1="1363.7" y1="1361.4" x2="1381.7" y2="1389.8" stroke="#4a4a4a" stroke-width="3.6"/>
<line x1="1279.8" y1="1394.0" x2="1313.7" y2="1392.6" stroke="#b4b4b4" stroke-width="6.8"/>
<line x1="1279.9" y1="1396.4" x2="1313.8" y2="1395.0" stroke="#404040" stroke-width="2.6"/>
<line x1="1279.7" y1="1391.6" x2="1313.6" y2="1390.2" stroke="#404040" stroke-width="2.6"/>
<line x1="1313.7" y1="1392.6" x2="1329.7" y2="1362.9" stroke="#4a4a4a" stroke-width="3.6"/>
<line x1="1327.6" y1="1304.8" x2="1361.6" y2="1303.3" stroke="#4a4a4a" stroke-width="3.6"/>
<line x1="1427.4" y1="1242.0" x2="1461.4" y2="1240.4" stroke="#4a4a4a" stroke-width="3.6"/>
<line x1="1379.6" y1="1331.6" x2="1413.6" y2="1330.2" stroke="#4a4a4a" stroke-width="3.6"/>
<line x1="1429.5" y1="1300.3" x2="1463.5" y2="1298.8" stroke="#4a4a4a" stroke-width="3.6"/>
<line x1="1277.7" y1="1336.1" x2="1311.6" y2="1334.6" stroke="#4a4a4a" stroke-width="3.6"/>
<line x1="1329.7" y1="1362.9" x2="1363.7" y2="1361.4" stroke="#4a4a4a" stroke-width="3.6"/>
<line x1="1311.6" y1="1334.6" x2="1327.6" y2="1304.8" stroke="#4a4a4a" stroke-width="3.6"/>
<line x1="1257.5" y1="1250.0" x2="1275.6" y2="1278.2" stroke="#4a4a4a" stroke-width="3.6"/>
<line x1="1465.6" y1="1357.1" x2="1481.6" y2="1327.2" stroke="#4a4a4a" stroke-width="3.6"/>
<line x1="1513.4" y1="1267.2" x2="1531.5" y2="1295.7" stroke="#4a4a4a" stroke-width="3.6"/>
<line x1="1375.4" y1="1215.3" x2="1409.4" y2="1213.7" stroke="#4a4a4a" stroke-width="3.6"/>
<line x1="1273.5" y1="1220.2" x2="1307.4" y2="1218.6" stroke="#4a4a4a" stroke-width="3.6"/>
<line x1="1411.5" y1="1271.9" x2="1427.4" y2="1242.0" stroke="#4a4a4a" stroke-width="3.6"/>
<line x1="1413.6" y1="1330.2" x2="1431.6" y2="1358.6" stroke="#b4b4b4" stroke-width="6.8"/>
<line x1="1411.6" y1="1331.4" x2="1429.6" y2="1359.8" stroke="#404040" stroke-width="2.6"/>
<line x1="1415.6" y1="1328.9" x2="1433.6" y2="1357.3" stroke="#404040" stroke-width="2.6"/>
<line x1="1359.5" y1="1245.2" x2="1375.4" y2="1215.3" stroke="#b4b4b4" stroke-width="6.8"/>
<line x1="1361.6" y1="1246.3" x2="1377.5" y2="1216.4" stroke="#404040" stroke-width="2.6"/>
<line x1="1357.4" y1="1244.1" x2="1373.3" y2="1214.2" stroke="#404040" stroke-width="2.6"/>
<line x1="1309.5" y1="1276.6" x2="1327.6" y2="1304.8" stroke="#b4b4b4" stroke-width="6.8"/>
<line x1="1307.5" y1="1277.9" x2="1325.6" y2="1306.1" stroke="#404040" stroke-width="2.6"/>
<line x1="1311.5" y1="1275.3" x2="1329.6" y2="1303.6" stroke="#404040" stroke-width="2.6"/>
<line x1="1377.5" y1="1273.5" x2="1411.5" y2="1271.9" stroke="#4a4a4a" stroke-width="3.6"/>
<line x1="1479.5" y1="1268.8" x2="1513.4" y2="1267.2" stroke="#4a4a4a" stroke-width="3.6"/>
<line x1="1259.6" y1="1307.9" x2="1275.6" y2="1278.2" stroke="#b4b4b4" stroke-width="6.8"/>
<line x1="1261.7" y1="1309.0" x2="1277.7" y2="1279.3" stroke="#404040" stroke-width="2.6"/>
<line x1="1257.5" y1="1306.7" x2="1273.5" y2="1277.0" stroke="#404040" stroke-width="2.6"/>
<line x1="1515.5" y1="1325.7" x2="1533.6" y2="1354.3" stroke="#4a4a4a" stroke-width="3.6"/>
<line x1="1325.5" y1="1246.8" x2="1359.5" y2="1245.2" stroke="#4a4a4a" stroke-width="3.6"/>
<line x1="1261.7" y1="1365.7" x2="1277.7" y2="1336.1" stroke="#b4b4b4" stroke-width="6.8"/>
<line x1="1263.8" y1="1366.9" x2="1279.8" y2="1337.2" stroke="#404040" stroke-width="2.6"/>
<line x1="1259.6" y1="1364.6" x2="1275.6" y2="1334.9" stroke="#404040" stroke-width="2.6"/>
<line x1="1311.6" y1="1334.6" x2="1329.7" y2="1362.9" stroke="#b4b4b4" stroke-width="6.8"/>
<line x1="1309.6" y1="1335.9" x2="1327.7" y2="1364.1" stroke="#404040" stroke-width="2.6"/>
<line x1="1313.6" y1="1333.3" x2="1331.7" y2="1361.6" stroke="#404040" stroke-width="2.6"/>
<line x1="1463.5" y1="1298.8" x2="1479.5" y2="1268.8" stroke="#4a4a4a" stroke-width="3.6"/>
<line x1="1465.6" y1="1357.1" x2="1483.7" y2="1385.6" stroke="#b4b4b4" stroke-width="6.8"/>
<line x1="1463.6" y1="1358.4" x2="1481.6" y2="1386.9" stroke="#404040" stroke-width="2.6"/>
<line x1="1467.6" y1="1355.9" x2="1485.7" y2="1384.3" stroke="#404040" stroke-width="2.6"/>
<line x1="1275.6" y1="1278.2" x2="1309.5" y2="1276.6" stroke="#4a4a4a" stroke-width="3.6"/>
<line x1="1361.6" y1="1303.3" x2="1379.6" y2="1331.6" stroke="#4a4a4a" stroke-width="3.6"/>
<line x1="1411.5" y1="1271.9" x2="1429.5" y2="1300.3" stroke="#b4b4b4" stroke-width="6.8"/>
<line x1="1409.5" y1="1273.2" x2="1427.5" y2="1301.6" stroke="#404040" stroke-width="2.6"/>
<line x1="1413.5" y1="1270.6" x2="1431.5" y2="1299.0" stroke="#404040" stroke-width="2.6"/>
<line x1="1409.4" y1="1213.7" x2="1427.4" y2="1242.0" stroke="#b4b4b4" stroke-width="6.8"/>
<line x1="1407.4" y1="1215.0" x2="1425.4" y2="1243.3" stroke="#404040" stroke-width="2.6"/>
<line x1="1411.4" y1="1212.4" x2="1429.4" y2="1240.7" stroke="#404040" stroke-width="2.6"/>
<line x1="1517.6" y1="1384.2" x2="1533.6" y2="1354.3" stroke="#b4b4b4" stroke-width="6.8"/>
<line x1="1519.7" y1="1385.3" x2="1535.7" y2="1355.4" stroke="#404040" stroke-width="2.6"/>
<line x1="1515.5" y1="1383.1" x2="1531.5" y2="1353.1" stroke="#404040" stroke-width="2.6"/>
<line x1="1461.4" y1="1240.4" x2="1477.4" y2="1210.4" stroke="#4a4a4a" stroke-width="3.6"/>
<line x1="1261.7" y1="1365.7" x2="1279.8" y2="1394.0" stroke="#4a4a4a" stroke-width="3.6"/>
<line x1="1307.4" y1="1218.6" x2="1325.5" y2="1246.8" stroke="#b4b4b4" stroke-width="6.8"/>
<line x1="1305.4" y1="1219.9" x2="1323.5" y2="1248.1" stroke="#404040" stroke-width="2.6"/>
<line x1="1309.4" y1="1217.3" x2="1327.5" y2="1245.5" stroke="#404040" stroke-width="2.6"/>
<line x1="1359.5" y1="1245.2" x2="1377.5" y2="1273.5" stroke="#4a4a4a" stroke-width="3.6"/>
<line x1="1363.7" y1="1361.4" x2="1379.6" y2="1331.6" stroke="#b4b4b4" stroke-width="6.8"/>
<line x1="1365.8" y1="1362.6" x2="1381.7" y2="1332.8" stroke="#404040" stroke-width="2.6"/>
<line x1="1361.6" y1="1360.3" x2="1377.5" y2="1330.5" stroke="#404040" stroke-width="2.6"/>
<line x1="1413.6" y1="1330.2" x2="1429.5" y2="1300.3" stroke="#4a4a4a" stroke-width="3.6"/>
<line x1="1483.7" y1="1385.6" x2="1517.6" y2="1384.2" stroke="#4a4a4a" stroke-width="3.6"/>
<line x1="1481.6" y1="1327.2" x2="1515.5" y2="1325.7" stroke="#4a4a4a" stroke-width="3.6"/>
<line x1="1309.5" y1="1276.6" x2="1325.5" y2="1246.8" stroke="#4a4a4a" stroke-width="3.6"/>
<line x1="1511.3" y1="1208.8" x2="1529.4" y2="1237.2" stroke="#4a4a4a" stroke-width="3.6"/>
<line x1="1513.4" y1="1267.2" x2="1529.4" y2="1237.2" stroke="#b4b4b4" stroke-width="6.8"/>
<line x1="1515.5" y1="1268.4" x2="1531.5" y2="1238.3" stroke="#404040" stroke-width="2.6"/>
<line x1="1511.3" y1="1266.1" x2="1527.3" y2="1236.1" stroke="#404040" stroke-width="2.6"/>
<line x1="1431.6" y1="1358.6" x2="1465.6" y2="1357.1" stroke="#4a4a4a" stroke-width="3.6"/>
<line x1="1257.5" y1="1250.0" x2="1273.5" y2="1220.2" stroke="#b4b4b4" stroke-width="6.8"/>
<line x1="1259.6" y1="1251.1" x2="1275.6" y2="1221.4" stroke="#404040" stroke-width="2.6"/>
<line x1="1255.4" y1="1248.9" x2="1271.4" y2="1219.1" stroke="#404040" stroke-width="2.6"/>
<line x1="1461.4" y1="1240.4" x2="1479.5" y2="1268.8" stroke="#b4b4b4" stroke-width="6.8"/>
<line x1="1459.4" y1="1241.7" x2="1477.4" y2="1270.1" stroke="#404040" stroke-width="2.6"/>
<line x1="1463.4" y1="1239.1" x2="1481.5" y2="1267.5" stroke="#404040" stroke-width="2.6"/>
<line x1="1477.4" y1="1210.4" x2="1511.3" y2="1208.8" stroke="#b4b4b4" stroke-width="6.8"/>
<line x1="1477.5" y1="1212.8" x2="1511.5" y2="1211.1" stroke="#404040" stroke-width="2.6"/>
<line x1="1477.2" y1="1208.0" x2="1511.2" y2="1206.4" stroke="#404040" stroke-width="2.6"/>
<line x1="1515.5" y1="1325.7" x2="1531.5" y2="1295.7" stroke="#b4b4b4" stroke-width="6.8"/>
<line x1="1517.6" y1="1326.9" x2="1533.6" y2="1296.9" stroke="#404040" stroke-width="2.6"/>
<line x1="1513.4" y1="1324.6" x2="1529.4" y2="1294.6" stroke="#404040" stroke-width="2.6"/>
<line x1="1381.7" y1="1389.8" x2="1415.7" y2="1388.4" stroke="#4a4a4a" stroke-width="3.6"/>
<line x1="1415.7" y1="1388.4" x2="1431.6" y2="1358.6" stroke="#4a4a4a" stroke-width="3.6"/>
<line x1="1361.6" y1="1303.3" x2="1377.5" y2="1273.5" stroke="#b4b4b4" stroke-width="6.8"/>
<line x1="1363.7" y1="1304.4" x2="1379.6" y2="1274.6" stroke="#404040" stroke-width="2.6"/>
<line x1="1359.5" y1="1302.2" x2="1375.4" y2="1272.4" stroke="#404040" stroke-width="2.6"/>
<line x1="1463.5" y1="1298.8" x2="1481.6" y2="1327.2" stroke="#b4b4b4" stroke-width="6.8"/>
<line x1="1461.5" y1="1300.0" x2="1479.5" y2="1328.5" stroke="#404040" stroke-width="2.6"/>
<line x1="1465.5" y1="1297.5" x2="1483.6" y2="1325.9" stroke="#404040" stroke-width="2.6"/>
<line x1="1259.6" y1="1307.9" x2="1277.7" y2="1336.1" stroke="#4a4a4a" stroke-width="3.6"/>
<line x1="1273.5" y1="1220.2" x2="1259.4" y2="1198.3" stroke="#555" stroke-width="3.2"/>
<line x1="1307.4" y1="1218.6" x2="1319.9" y2="1195.3" stroke="#555" stroke-width="3.2"/>
<line x1="1257.5" y1="1250.0" x2="1231.0" y2="1251.2" stroke="#555" stroke-width="3.2"/>
<line x1="1259.6" y1="1307.9" x2="1233.1" y2="1309.0" stroke="#555" stroke-width="3.2"/>
<line x1="1313.7" y1="1392.6" x2="1327.8" y2="1414.7" stroke="#555" stroke-width="3.2"/>
<line x1="1279.8" y1="1394.0" x2="1267.3" y2="1417.1" stroke="#555" stroke-width="3.2"/>
<line x1="1261.7" y1="1365.7" x2="1235.2" y2="1366.9" stroke="#555" stroke-width="3.2"/>
<line x1="1375.4" y1="1215.3" x2="1361.3" y2="1193.3" stroke="#555" stroke-width="3.2"/>
<line x1="1409.4" y1="1213.7" x2="1421.8" y2="1190.3" stroke="#555" stroke-width="3.2"/>
<line x1="1477.4" y1="1210.4" x2="1463.3" y2="1188.3" stroke="#555" stroke-width="3.2"/>
<line x1="1511.3" y1="1208.8" x2="1523.8" y2="1185.3" stroke="#555" stroke-width="3.2"/>
<line x1="1529.4" y1="1237.2" x2="1555.9" y2="1236.0" stroke="#555" stroke-width="3.2"/>
<line x1="1531.5" y1="1295.7" x2="1558.0" y2="1294.6" stroke="#555" stroke-width="3.2"/>
<line x1="1533.6" y1="1354.3" x2="1560.1" y2="1353.1" stroke="#555" stroke-width="3.2"/>
<line x1="1517.6" y1="1384.2" x2="1531.7" y2="1406.5" stroke="#555" stroke-width="3.2"/>
<line x1="1483.7" y1="1385.6" x2="1471.2" y2="1408.9" stroke="#555" stroke-width="3.2"/>
<line x1="1381.7" y1="1389.8" x2="1379.7" y2="1414.3" stroke="#4a4a4a" stroke-width="3.2"/>
<line x1="1379.7" y1="1414.3" x2="1377.6" y2="1438.8" stroke="#8080c0" stroke-width="3.2"/>
<line x1="1377.6" y1="1438.8" x2="1373.9" y2="1461.6" stroke="#8080c0" stroke-width="3.2"/>
<line x1="1373.9" y1="1461.6" x2="1370.2" y2="1484.4" stroke="#4a4a4a" stroke-width="3.2"/>
<line x1="1370.2" y1="1484.4" x2="1401.0" y2="1505.4" stroke="#4a4a4a" stroke-width="3.2"/>
<line x1="1401.0" y1="1505.4" x2="1396.0" y2="1530.0" stroke="#4a4a4a" stroke-width="3.2"/>
<line x1="1370.2" y1="1484.4" x2="1352.9" y2="1490.6" stroke="#4a4a4a" stroke-width="3.2"/>
<line x1="1401.0" y1="1505.4" x2="1417.0" y2="1496.8" stroke="#4a4a4a" stroke-width="3.2"/>
<line x1="1413.5" y1="1389.4" x2="1420.2" y2="1403.5" stroke="#4a4a4a" stroke-width="2.6"/>
<line x1="1420.2" y1="1403.5" x2="1426.9" y2="1417.6" stroke="#e01818" stroke-width="2.6"/>
<line x1="1417.8" y1="1387.4" x2="1424.5" y2="1401.5" stroke="#4a4a4a" stroke-width="2.6"/>
<line x1="1424.5" y1="1401.5" x2="1431.3" y2="1415.6" stroke="#e01818" stroke-width="2.6"/>
<circle cx="1273.5" cy="1220.2" r="11.4" fill="url(#gC)"/>
<circle cx="1307.4" cy="1218.6" r="11.4" fill="url(#gC)"/>
<circle cx="1325.5" cy="1246.8" r="11.4" fill="url(#gC)"/>
<circle cx="1309.5" cy="1276.6" r="11.4" fill="url(#gC)"/>
<circle cx="1275.6" cy="1278.2" r="11.4" fill="url(#gC)"/>
<circle cx="1257.5" cy="1250.0" r="11.4" fill="url(#gC)"/>
<circle cx="1327.6" cy="1304.8" r="11.4" fill="url(#gC)"/>
<circle cx="1311.6" cy="1334.6" r="11.4" fill="url(#gC)"/>
<circle cx="1277.7" cy="1336.1" r="11.4" fill="url(#gC)"/>
<circle cx="1259.6" cy="1307.9" r="11.4" fill="url(#gC)"/>
<circle cx="1329.7" cy="1362.9" r="11.4" fill="url(#gC)"/>
<circle cx="1313.7" cy="1392.6" r="11.4" fill="url(#gC)"/>
<circle cx="1279.8" cy="1394.0" r="11.4" fill="url(#gC)"/>
<circle cx="1261.7" cy="1365.7" r="11.4" fill="url(#gC)"/>
<circle cx="1359.5" cy="1245.2" r="11.4" fill="url(#gC)"/>
<circle cx="1377.5" cy="1273.5" r="11.4" fill="url(#gC)"/>
<circle cx="1361.6" cy="1303.3" r="11.4" fill="url(#gC)"/>
<circle cx="1379.6" cy="1331.6" r="11.4" fill="url(#gC)"/>
<circle cx="1363.7" cy="1361.4" r="11.4" fill="url(#gC)"/>
<circle cx="1375.4" cy="1215.3" r="11.4" fill="url(#gC)"/>
<circle cx="1409.4" cy="1213.7" r="11.4" fill="url(#gC)"/>
<circle cx="1427.4" cy="1242.0" r="11.4" fill="url(#gC)"/>
<circle cx="1411.5" cy="1271.9" r="11.4" fill="url(#gC)"/>
<circle cx="1429.5" cy="1300.3" r="11.4" fill="url(#gC)"/>
<circle cx="1413.6" cy="1330.2" r="11.4" fill="url(#gC)"/>
<circle cx="1431.6" cy="1358.6" r="11.4" fill="url(#gC)"/>
<circle cx="1415.7" cy="1388.4" r="11.4" fill="url(#gC)"/>
<circle cx="1381.7" cy="1389.8" r="11.4" fill="url(#gC)"/>
<circle cx="1461.4" cy="1240.4" r="11.4" fill="url(#gC)"/>
<circle cx="1479.5" cy="1268.8" r="11.4" fill="url(#gC)"/>
<circle cx="1463.5" cy="1298.8" r="11.4" fill="url(#gC)"/>
<circle cx="1481.6" cy="1327.2" r="11.4" fill="url(#gC)"/>
<circle cx="1465.6" cy="1357.1" r="11.4" fill="url(#gC)"/>
<circle cx="1477.4" cy="1210.4" r="11.4" fill="url(#gC)"/>
<circle cx="1511.3" cy="1208.8" r="11.4" fill="url(#gC)"/>
<circle cx="1529.4" cy="1237.2" r="11.4" fill="url(#gC)"/>
<circle cx="1513.4" cy="1267.2" r="11.4" fill="url(#gC)"/>
<circle cx="1531.5" cy="1295.7" r="11.4" fill="url(#gC)"/>
<circle cx="1515.5" cy="1325.7" r="11.4" fill="url(#gC)"/>
<circle cx="1533.6" cy="1354.3" r="11.4" fill="url(#gC)"/>
<circle cx="1517.6" cy="1384.2" r="11.4" fill="url(#gC)"/>
<circle cx="1483.7" cy="1385.6" r="11.4" fill="url(#gC)"/>
<circle cx="1259.4" cy="1198.3" r="7.6" fill="url(#gH)"/>
<circle cx="1319.9" cy="1195.3" r="7.6" fill="url(#gH)"/>
<circle cx="1231.0" cy="1251.2" r="7.6" fill="url(#gH)"/>
<circle cx="1233.1" cy="1309.0" r="7.6" fill="url(#gH)"/>
<circle cx="1327.8" cy="1414.7" r="7.6" fill="url(#gH)"/>
<circle cx="1267.3" cy="1417.1" r="7.6" fill="url(#gH)"/>
<circle cx="1235.2" cy="1366.9" r="7.6" fill="url(#gH)"/>
<circle cx="1361.3" cy="1193.3" r="7.6" fill="url(#gH)"/>
<circle cx="1421.8" cy="1190.3" r="7.6" fill="url(#gH)"/>
<circle cx="1463.3" cy="1188.3" r="7.6" fill="url(#gH)"/>
<circle cx="1523.8" cy="1185.3" r="7.6" fill="url(#gH)"/>
<circle cx="1555.9" cy="1236.0" r="7.6" fill="url(#gH)"/>
<circle cx="1558.0" cy="1294.6" r="7.6" fill="url(#gH)"/>
<circle cx="1560.1" cy="1353.1" r="7.6" fill="url(#gH)"/>
<circle cx="1531.7" cy="1406.5" r="7.6" fill="url(#gH)"/>
<circle cx="1471.2" cy="1408.9" r="7.6" fill="url(#gH)"/>
<circle cx="1429.1" cy="1416.6" r="9.6" fill="url(#gO)"/>
<circle cx="1377.6" cy="1438.8" r="13.4" fill="url(#gN)"/>
<circle cx="1352.9" cy="1490.6" r="7.2" fill="url(#gH)"/>
<circle cx="1370.2" cy="1484.4" r="10.5" fill="url(#gC)"/>
<circle cx="1417.0" cy="1496.8" r="7.2" fill="url(#gH)"/>
<circle cx="1401.0" cy="1505.4" r="10.5" fill="url(#gC)"/>
<circle cx="1396.0" cy="1530.0" r="7.2" fill="url(#gH)"/>
<line x1="1800.1" y1="1363.8" x2="1816.9" y2="1390.7" stroke="#4a4a4a" stroke-width="3.4"/>
<line x1="1718.9" y1="1393.4" x2="1751.6" y2="1392.5" stroke="#4a4a4a" stroke-width="3.4"/>
<line x1="1751.6" y1="1392.5" x2="1767.6" y2="1364.7" stroke="#b4b4b4" stroke-width="6.5"/>
<line x1="1753.5" y1="1393.6" x2="1769.5" y2="1365.8" stroke="#404040" stroke-width="2.4"/>
<line x1="1749.6" y1="1391.4" x2="1765.6" y2="1363.6" stroke="#404040" stroke-width="2.4"/>
<line x1="1766.8" y1="1310.0" x2="1799.2" y2="1309.0" stroke="#4a4a4a" stroke-width="3.4"/>
<line x1="1862.4" y1="1252.0" x2="1894.5" y2="1251.0" stroke="#4a4a4a" stroke-width="3.4"/>
<line x1="1815.8" y1="1335.9" x2="1848.3" y2="1334.9" stroke="#4a4a4a" stroke-width="3.4"/>
<line x1="1863.8" y1="1307.0" x2="1896.1" y2="1306.0" stroke="#4a4a4a" stroke-width="3.4"/>
<line x1="1718.5" y1="1338.8" x2="1751.0" y2="1337.8" stroke="#4a4a4a" stroke-width="3.4"/>
<line x1="1767.6" y1="1364.7" x2="1800.1" y2="1363.8" stroke="#4a4a4a" stroke-width="3.4"/>
<line x1="1751.0" y1="1337.8" x2="1766.8" y2="1310.0" stroke="#b4b4b4" stroke-width="6.5"/>
<line x1="1752.9" y1="1338.9" x2="1768.8" y2="1311.1" stroke="#404040" stroke-width="2.4"/>
<line x1="1749.0" y1="1336.7" x2="1764.9" y2="1308.8" stroke="#404040" stroke-width="2.4"/>
<line x1="1701.9" y1="1257.4" x2="1718.1" y2="1284.1" stroke="#b4b4b4" stroke-width="6.5"/>
<line x1="1700.0" y1="1258.5" x2="1716.2" y2="1285.3" stroke="#404040" stroke-width="2.4"/>
<line x1="1703.8" y1="1256.2" x2="1720.1" y2="1283.0" stroke="#404040" stroke-width="2.4"/>
<line x1="1897.8" y1="1361.0" x2="1913.2" y2="1333.0" stroke="#b4b4b4" stroke-width="6.5"/>
<line x1="1899.7" y1="1362.1" x2="1915.1" y2="1334.1" stroke="#404040" stroke-width="2.4"/>
<line x1="1895.8" y1="1359.9" x2="1911.2" y2="1331.9" stroke="#404040" stroke-width="2.4"/>
<line x1="1943.6" y1="1276.9" x2="1960.8" y2="1304.0" stroke="#b4b4b4" stroke-width="6.5"/>
<line x1="1941.7" y1="1278.1" x2="1958.9" y2="1305.2" stroke="#404040" stroke-width="2.4"/>
<line x1="1945.5" y1="1275.7" x2="1962.7" y2="1302.8" stroke="#404040" stroke-width="2.4"/>
<line x1="1813.7" y1="1226.2" x2="1845.7" y2="1225.1" stroke="#4a4a4a" stroke-width="3.4"/>
<line x1="1717.8" y1="1229.5" x2="1749.7" y2="1228.4" stroke="#b4b4b4" stroke-width="6.5"/>
<line x1="1717.8" y1="1231.8" x2="1749.8" y2="1230.7" stroke="#404040" stroke-width="2.4"/>
<line x1="1717.7" y1="1227.3" x2="1749.7" y2="1226.2" stroke="#404040" stroke-width="2.4"/>
<line x1="1847.0" y1="1280.0" x2="1862.4" y2="1252.0" stroke="#4a4a4a" stroke-width="3.4"/>
<line x1="1848.3" y1="1334.9" x2="1865.2" y2="1361.9" stroke="#b4b4b4" stroke-width="6.5"/>
<line x1="1846.4" y1="1336.1" x2="1863.3" y2="1363.1" stroke="#404040" stroke-width="2.4"/>
<line x1="1850.2" y1="1333.7" x2="1867.1" y2="1360.7" stroke="#404040" stroke-width="2.4"/>
<line x1="1798.2" y1="1254.2" x2="1813.7" y2="1226.2" stroke="#b4b4b4" stroke-width="6.5"/>
<line x1="1800.2" y1="1255.3" x2="1815.7" y2="1227.3" stroke="#404040" stroke-width="2.4"/>
<line x1="1796.2" y1="1253.1" x2="1811.7" y2="1225.1" stroke="#404040" stroke-width="2.4"/>
<line x1="1750.4" y1="1283.1" x2="1766.8" y2="1310.0" stroke="#4a4a4a" stroke-width="3.4"/>
<line x1="1814.8" y1="1281.1" x2="1847.0" y2="1280.0" stroke="#4a4a4a" stroke-width="3.4"/>
<line x1="1911.4" y1="1278.0" x2="1943.6" y2="1276.9" stroke="#4a4a4a" stroke-width="3.4"/>
<line x1="1702.2" y1="1311.9" x2="1718.1" y2="1284.1" stroke="#4a4a4a" stroke-width="3.4"/>
<line x1="1945.6" y1="1332.1" x2="1962.9" y2="1359.2" stroke="#b4b4b4" stroke-width="6.5"/>
<line x1="1943.7" y1="1333.3" x2="1960.9" y2="1360.4" stroke="#404040" stroke-width="2.4"/>
<line x1="1947.5" y1="1330.9" x2="1964.8" y2="1358.0" stroke="#404040" stroke-width="2.4"/>
<line x1="1766.1" y1="1255.2" x2="1798.2" y2="1254.2" stroke="#4a4a4a" stroke-width="3.4"/>
<line x1="1702.5" y1="1366.5" x2="1718.5" y2="1338.8" stroke="#4a4a4a" stroke-width="3.4"/>
<line x1="1751.0" y1="1337.8" x2="1767.6" y2="1364.7" stroke="#4a4a4a" stroke-width="3.4"/>
<line x1="1896.1" y1="1306.0" x2="1911.4" y2="1278.0" stroke="#b4b4b4" stroke-width="6.5"/>
<line x1="1898.1" y1="1307.1" x2="1913.4" y2="1279.0" stroke="#404040" stroke-width="2.4"/>
<line x1="1894.1" y1="1304.9" x2="1909.4" y2="1276.9" stroke="#404040" stroke-width="2.4"/>
<line x1="1897.8" y1="1361.0" x2="1914.9" y2="1388.1" stroke="#4a4a4a" stroke-width="3.4"/>
<line x1="1718.1" y1="1284.1" x2="1750.4" y2="1283.1" stroke="#4a4a4a" stroke-width="3.4"/>
<line x1="1799.2" y1="1309.0" x2="1815.8" y2="1335.9" stroke="#4a4a4a" stroke-width="3.4"/>
<line x1="1847.0" y1="1280.0" x2="1863.8" y2="1307.0" stroke="#b4b4b4" stroke-width="6.5"/>
<line x1="1845.1" y1="1281.2" x2="1861.9" y2="1308.2" stroke="#404040" stroke-width="2.4"/>
<line x1="1848.9" y1="1278.8" x2="1865.7" y2="1305.8" stroke="#404040" stroke-width="2.4"/>
<line x1="1845.7" y1="1225.1" x2="1862.4" y2="1252.0" stroke="#b4b4b4" stroke-width="6.5"/>
<line x1="1843.8" y1="1226.3" x2="1860.5" y2="1253.2" stroke="#404040" stroke-width="2.4"/>
<line x1="1847.6" y1="1223.9" x2="1864.3" y2="1250.8" stroke="#404040" stroke-width="2.4"/>
<line x1="1947.6" y1="1387.2" x2="1962.9" y2="1359.2" stroke="#4a4a4a" stroke-width="3.4"/>
<line x1="1894.5" y1="1251.0" x2="1909.7" y2="1222.9" stroke="#b4b4b4" stroke-width="6.5"/>
<line x1="1896.5" y1="1252.0" x2="1911.7" y2="1224.0" stroke="#404040" stroke-width="2.4"/>
<line x1="1892.5" y1="1249.9" x2="1907.7" y2="1221.8" stroke="#404040" stroke-width="2.4"/>
<line x1="1702.5" y1="1366.5" x2="1718.9" y2="1393.4" stroke="#b4b4b4" stroke-width="6.5"/>
<line x1="1700.5" y1="1367.7" x2="1717.0" y2="1394.5" stroke="#404040" stroke-width="2.4"/>
<line x1="1704.4" y1="1365.3" x2="1720.8" y2="1392.2" stroke="#404040" stroke-width="2.4"/>
<line x1="1749.7" y1="1228.4" x2="1766.1" y2="1255.2" stroke="#4a4a4a" stroke-width="3.4"/>
<line x1="1798.2" y1="1254.2" x2="1814.8" y2="1281.1" stroke="#4a4a4a" stroke-width="3.4"/>
<line x1="1800.1" y1="1363.8" x2="1815.8" y2="1335.9" stroke="#b4b4b4" stroke-width="6.5"/>
<line x1="1802.1" y1="1364.9" x2="1817.8" y2="1337.0" stroke="#404040" stroke-width="2.4"/>
<line x1="1798.1" y1="1362.7" x2="1813.9" y2="1334.8" stroke="#404040" stroke-width="2.4"/>
<line x1="1848.3" y1="1334.9" x2="1863.8" y2="1307.0" stroke="#4a4a4a" stroke-width="3.4"/>
<line x1="1914.9" y1="1388.1" x2="1947.6" y2="1387.2" stroke="#b4b4b4" stroke-width="6.5"/>
<line x1="1915.0" y1="1390.4" x2="1947.6" y2="1389.5" stroke="#404040" stroke-width="2.4"/>
<line x1="1914.8" y1="1385.8" x2="1947.5" y2="1384.9" stroke="#404040" stroke-width="2.4"/>
<line x1="1913.2" y1="1333.0" x2="1945.6" y2="1332.1" stroke="#4a4a4a" stroke-width="3.4"/>
<line x1="1750.4" y1="1283.1" x2="1766.1" y2="1255.2" stroke="#b4b4b4" stroke-width="6.5"/>
<line x1="1752.3" y1="1284.2" x2="1768.1" y2="1256.3" stroke="#404040" stroke-width="2.4"/>
<line x1="1748.4" y1="1282.0" x2="1764.1" y2="1254.1" stroke="#404040" stroke-width="2.4"/>
<line x1="1941.7" y1="1221.8" x2="1958.7" y2="1248.8" stroke="#b4b4b4" stroke-width="6.5"/>
<line x1="1939.8" y1="1223.0" x2="1956.8" y2="1250.0" stroke="#404040" stroke-width="2.4"/>
<line x1="1943.6" y1="1220.6" x2="1960.6" y2="1247.6" stroke="#404040" stroke-width="2.4"/>
<line x1="1943.6" y1="1276.9" x2="1958.7" y2="1248.8" stroke="#4a4a4a" stroke-width="3.4"/>
<line x1="1865.2" y1="1361.9" x2="1897.8" y2="1361.0" stroke="#4a4a4a" stroke-width="3.4"/>
<line x1="1701.9" y1="1257.4" x2="1717.8" y2="1229.5" stroke="#4a4a4a" stroke-width="3.4"/>
<line x1="1894.5" y1="1251.0" x2="1911.4" y2="1278.0" stroke="#4a4a4a" stroke-width="3.4"/>
<line x1="1909.7" y1="1222.9" x2="1941.7" y2="1221.8" stroke="#4a4a4a" stroke-width="3.4"/>
<line x1="1945.6" y1="1332.1" x2="1960.8" y2="1304.0" stroke="#4a4a4a" stroke-width="3.4"/>
<line x1="1816.9" y1="1390.7" x2="1849.6" y2="1389.8" stroke="#4a4a4a" stroke-width="3.4"/>
<line x1="1849.6" y1="1389.8" x2="1865.2" y2="1361.9" stroke="#4a4a4a" stroke-width="3.4"/>
<line x1="1799.2" y1="1309.0" x2="1814.8" y2="1281.1" stroke="#b4b4b4" stroke-width="6.5"/>
<line x1="1801.1" y1="1310.1" x2="1816.8" y2="1282.2" stroke="#404040" stroke-width="2.4"/>
<line x1="1797.2" y1="1307.9" x2="1812.8" y2="1279.9" stroke="#404040" stroke-width="2.4"/>
<line x1="1896.1" y1="1306.0" x2="1913.2" y2="1333.0" stroke="#4a4a4a" stroke-width="3.4"/>
<line x1="1702.2" y1="1311.9" x2="1718.5" y2="1338.8" stroke="#b4b4b4" stroke-width="6.5"/>
<line x1="1700.2" y1="1313.1" x2="1716.6" y2="1339.9" stroke="#404040" stroke-width="2.4"/>
<line x1="1704.1" y1="1310.8" x2="1720.5" y2="1337.6" stroke="#404040" stroke-width="2.4"/>
<line x1="1717.8" y1="1229.5" x2="1705.2" y2="1208.7" stroke="#555" stroke-width="3.1"/>
<line x1="1749.7" y1="1228.4" x2="1761.9" y2="1206.7" stroke="#555" stroke-width="3.1"/>
<line x1="1701.9" y1="1257.4" x2="1676.9" y2="1258.2" stroke="#555" stroke-width="3.1"/>
<line x1="1702.2" y1="1311.9" x2="1677.0" y2="1312.7" stroke="#555" stroke-width="3.1"/>
<line x1="1751.6" y1="1392.5" x2="1764.6" y2="1413.5" stroke="#555" stroke-width="3.1"/>
<line x1="1718.9" y1="1393.4" x2="1706.3" y2="1415.0" stroke="#555" stroke-width="3.1"/>
<line x1="1702.5" y1="1366.5" x2="1677.1" y2="1367.2" stroke="#555" stroke-width="3.1"/>
<line x1="1813.7" y1="1226.2" x2="1800.9" y2="1205.3" stroke="#555" stroke-width="3.1"/>
<line x1="1845.7" y1="1225.1" x2="1857.6" y2="1203.3" stroke="#555" stroke-width="3.1"/>
<line x1="1849.6" y1="1389.8" x2="1862.8" y2="1410.9" stroke="#555" stroke-width="3.1"/>
<line x1="1909.7" y1="1222.9" x2="1896.6" y2="1201.9" stroke="#555" stroke-width="3.1"/>
<line x1="1941.7" y1="1221.8" x2="1953.3" y2="1199.9" stroke="#555" stroke-width="3.1"/>
<line x1="1958.7" y1="1248.8" x2="1983.7" y2="1248.0" stroke="#555" stroke-width="3.1"/>
<line x1="1960.8" y1="1304.0" x2="1986.0" y2="1303.2" stroke="#555" stroke-width="3.1"/>
<line x1="1962.9" y1="1359.2" x2="1988.2" y2="1358.5" stroke="#555" stroke-width="3.1"/>
<line x1="1947.6" y1="1387.2" x2="1961.1" y2="1408.4" stroke="#555" stroke-width="3.1"/>
<line x1="1914.9" y1="1388.1" x2="1902.8" y2="1409.9" stroke="#555" stroke-width="3.1"/>
<line x1="1816.9" y1="1390.7" x2="1813.5" y2="1400.4" stroke="#4a4a4a" stroke-width="3.1"/>
<line x1="1813.5" y1="1400.4" x2="1810.0" y2="1410.0" stroke="#e01818" stroke-width="3.1"/>
<line x1="1810.0" y1="1411.0" x2="1808.8" y2="1431.0" stroke="#e01818" stroke-width="3.1"/>
<line x1="1808.8" y1="1431.0" x2="1807.7" y2="1451.1" stroke="#8080c0" stroke-width="3.1"/>
<line x1="1807.7" y1="1451.1" x2="1804.6" y2="1473.3" stroke="#8080c0" stroke-width="3.1"/>
<line x1="1804.6" y1="1473.3" x2="1801.5" y2="1495.5" stroke="#4a4a4a" stroke-width="3.1"/>
<line x1="1801.5" y1="1495.5" x2="1770.7" y2="1509.0" stroke="#4a4a4a" stroke-width="3.1"/>
<line x1="1770.7" y1="1509.0" x2="1767.0" y2="1531.3" stroke="#4a4a4a" stroke-width="3.1"/>
<line x1="1770.7" y1="1509.0" x2="1752.2" y2="1496.8" stroke="#4a4a4a" stroke-width="3.1"/>
<line x1="1801.5" y1="1495.5" x2="1821.0" y2="1505.4" stroke="#4a4a4a" stroke-width="3.1"/>
<circle cx="1717.8" cy="1229.5" r="10.8" fill="url(#gC)"/>
<circle cx="1749.7" cy="1228.4" r="10.8" fill="url(#gC)"/>
<circle cx="1766.1" cy="1255.2" r="10.8" fill="url(#gC)"/>
<circle cx="1750.4" cy="1283.1" r="10.8" fill="url(#gC)"/>
<circle cx="1718.1" cy="1284.1" r="10.8" fill="url(#gC)"/>
<circle cx="1701.9" cy="1257.4" r="10.8" fill="url(#gC)"/>
<circle cx="1766.8" cy="1310.0" r="10.8" fill="url(#gC)"/>
<circle cx="1751.0" cy="1337.8" r="10.8" fill="url(#gC)"/>
<circle cx="1718.5" cy="1338.8" r="10.8" fill="url(#gC)"/>
<circle cx="1702.2" cy="1311.9" r="10.8" fill="url(#gC)"/>
<circle cx="1767.6" cy="1364.7" r="10.8" fill="url(#gC)"/>
<circle cx="1751.6" cy="1392.5" r="10.8" fill="url(#gC)"/>
<circle cx="1718.9" cy="1393.4" r="10.8" fill="url(#gC)"/>
<circle cx="1702.5" cy="1366.5" r="10.8" fill="url(#gC)"/>
<circle cx="1798.2" cy="1254.2" r="10.8" fill="url(#gC)"/>
<circle cx="1814.8" cy="1281.1" r="10.8" fill="url(#gC)"/>
<circle cx="1799.2" cy="1309.0" r="10.8" fill="url(#gC)"/>
<circle cx="1815.8" cy="1335.9" r="10.8" fill="url(#gC)"/>
<circle cx="1800.1" cy="1363.8" r="10.8" fill="url(#gC)"/>
<circle cx="1813.7" cy="1226.2" r="10.8" fill="url(#gC)"/>
<circle cx="1845.7" cy="1225.1" r="10.8" fill="url(#gC)"/>
<circle cx="1862.4" cy="1252.0" r="10.8" fill="url(#gC)"/>
<circle cx="1847.0" cy="1280.0" r="10.8" fill="url(#gC)"/>
<circle cx="1863.8" cy="1307.0" r="10.8" fill="url(#gC)"/>
<circle cx="1848.3" cy="1334.9" r="10.8" fill="url(#gC)"/>
<circle cx="1865.2" cy="1361.9" r="10.8" fill="url(#gC)"/>
<circle cx="1849.6" cy="1389.8" r="10.8" fill="url(#gC)"/>
<circle cx="1816.9" cy="1390.7" r="10.8" fill="url(#gC)"/>
<circle cx="1894.5" cy="1251.0" r="10.8" fill="url(#gC)"/>
<circle cx="1911.4" cy="1278.0" r="10.8" fill="url(#gC)"/>
<circle cx="1896.1" cy="1306.0" r="10.8" fill="url(#gC)"/>
<circle cx="1913.2" cy="1333.0" r="10.8" fill="url(#gC)"/>
<circle cx="1897.8" cy="1361.0" r="10.8" fill="url(#gC)"/>
<circle cx="1909.7" cy="1222.9" r="10.8" fill="url(#gC)"/>
<circle cx="1941.7" cy="1221.8" r="10.8" fill="url(#gC)"/>
<circle cx="1958.7" cy="1248.8" r="10.8" fill="url(#gC)"/>
<circle cx="1943.6" cy="1276.9" r="10.8" fill="url(#gC)"/>
<circle cx="1960.8" cy="1304.0" r="10.8" fill="url(#gC)"/>
<circle cx="1945.6" cy="1332.1" r="10.8" fill="url(#gC)"/>
<circle cx="1962.9" cy="1359.2" r="10.8" fill="url(#gC)"/>
<circle cx="1947.6" cy="1387.2" r="10.8" fill="url(#gC)"/>
<circle cx="1914.9" cy="1388.1" r="10.8" fill="url(#gC)"/>
<circle cx="1705.2" cy="1208.7" r="7.2" fill="url(#gH)"/>
<circle cx="1761.9" cy="1206.7" r="7.2" fill="url(#gH)"/>
<circle cx="1676.9" cy="1258.2" r="7.2" fill="url(#gH)"/>
<circle cx="1677.0" cy="1312.7" r="7.2" fill="url(#gH)"/>
<circle cx="1764.6" cy="1413.5" r="7.2" fill="url(#gH)"/>
<circle cx="1706.3" cy="1415.0" r="7.2" fill="url(#gH)"/>
<circle cx="1677.1" cy="1367.2" r="7.2" fill="url(#gH)"/>
<circle cx="1800.9" cy="1205.3" r="7.2" fill="url(#gH)"/>
<circle cx="1857.6" cy="1203.3" r="7.2" fill="url(#gH)"/>
<circle cx="1862.8" cy="1410.9" r="7.2" fill="url(#gH)"/>
<circle cx="1896.6" cy="1201.9" r="7.2" fill="url(#gH)"/>
<circle cx="1953.3" cy="1199.9" r="7.2" fill="url(#gH)"/>
<circle cx="1983.7" cy="1248.0" r="7.2" fill="url(#gH)"/>
<circle cx="1986.0" cy="1303.2" r="7.2" fill="url(#gH)"/>
<circle cx="1988.2" cy="1358.5" r="7.2" fill="url(#gH)"/>
<circle cx="1961.1" cy="1408.4" r="7.2" fill="url(#gH)"/>
<circle cx="1902.8" cy="1409.9" r="7.2" fill="url(#gH)"/>
<circle cx="1815.1" cy="1414.1" r="9.0" fill="url(#gO)"/>
<circle cx="1806.5" cy="1408.0" r="9.6" fill="url(#gO)"/>
<circle cx="1807.7" cy="1451.1" r="13.4" fill="url(#gN)"/>
<circle cx="1752.2" cy="1496.8" r="7.2" fill="url(#gH)"/>
<circle cx="1767.0" cy="1498.0" r="7.2" fill="url(#gH)"/>
<circle cx="1770.7" cy="1509.0" r="10.5" fill="url(#gC)"/>
<circle cx="1801.5" cy="1495.5" r="10.5" fill="url(#gC)"/>
<circle cx="1821.0" cy="1505.4" r="7.2" fill="url(#gH)"/>
<circle cx="1767.0" cy="1531.3" r="7.2" fill="url(#gH)"/>
</svg>
</body></html>
